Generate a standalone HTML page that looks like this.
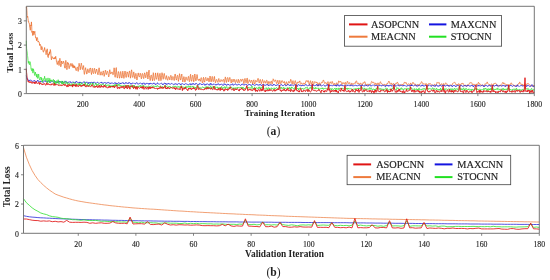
<!DOCTYPE html>
<html><head><meta charset="utf-8"><title>Loss curves</title>
<style>
html,body{margin:0;padding:0;background:#fff}
svg text{font-family:"Liberation Serif","DejaVu Serif",serif;fill:#222}
.tk{font-size:7.8px;stroke:#222;stroke-width:0.12px}
.lb{font-size:9.15px;font-weight:bold}
.cap{font-size:11.6px}
.lg{font-size:10.3px;stroke:#222;stroke-width:0.15px}
</style></head><body>
<svg width="550" height="280" viewBox="0 0 550 280" style="display:block">
<rect width="550" height="280" fill="#fff"/>
<polyline fill="none" stroke="#ea6420" stroke-width="0.7" stroke-linejoin="round" points="26.3,7.5 26.6,6.8 26.9,10.8 27.1,15.5 27.4,17.3 27.7,16.4 28.0,18.6 28.3,21.4 28.6,21.1 28.8,22.8 29.1,22.9 29.4,24.1 29.7,27.2 30.0,28.0 30.3,30.3 30.5,26.8 30.8,24.9 31.1,25.9 31.4,21.9 31.7,25.2 31.9,32.4 32.2,31.2 32.5,34.1 32.8,35.6 33.1,32.3 33.4,31.0 33.6,33.4 33.9,34.8 34.2,32.8 34.5,33.0 34.8,31.2 35.0,33.5 35.3,35.2 35.6,37.9 35.9,37.7 36.2,37.4 36.5,40.7 36.7,38.7 37.0,38.7 37.3,37.5 37.6,38.7 37.9,41.5 38.2,42.2 38.4,41.1 38.7,41.7 39.0,42.2 39.3,42.4 39.6,45.5 39.8,44.6 40.1,44.1 40.4,45.0 40.7,45.0 41.0,49.1 41.3,49.9 41.5,46.7 41.8,46.7 42.1,46.6 42.4,47.6 42.7,49.0 43.0,51.1 43.2,51.9 43.5,52.2 43.8,51.0 44.1,49.8 44.4,49.7 44.6,47.5 44.9,49.2 45.2,51.0 45.5,51.2 45.8,51.9 46.1,54.7 46.3,53.5 46.6,50.6 46.9,51.2 47.2,48.8 47.5,52.6 47.7,56.6 48.0,57.2 48.3,57.6 48.6,53.8 48.9,55.2 49.2,54.3 49.4,51.8 49.7,53.7 50.0,52.6 50.3,49.5 50.6,50.8 50.9,53.3 51.1,57.5 51.4,59.8 51.7,58.6 52.0,56.5 52.3,56.8 52.5,57.7 52.8,58.0 53.1,58.7 53.4,58.7 53.7,57.9 54.0,57.9 54.2,59.1 54.5,58.6 54.8,57.3 55.1,58.9 55.4,58.5 55.7,56.3 55.9,57.8 56.2,58.8 56.5,62.1 56.8,62.7 57.1,63.9 57.3,64.6 57.6,62.7 57.9,62.8 58.2,60.7 58.5,62.7 58.8,64.4 59.0,65.5 59.3,64.1 59.6,59.1 59.9,58.3 60.2,59.5 60.4,63.6 60.7,66.8 61.0,66.4 61.3,65.3 61.6,61.0 61.9,62.1 62.1,62.9 62.4,63.1 62.7,63.7 63.0,62.9 63.3,61.4 63.6,61.1 63.8,62.6 64.1,62.6 64.4,66.0 64.7,67.7 65.0,67.5 65.2,68.2 65.5,65.4 65.8,60.4 66.1,63.0 66.4,65.4 66.7,67.2 66.9,69.7 67.2,67.8 67.5,62.5 67.8,62.2 68.1,63.5 68.4,63.1 68.6,65.3 68.9,67.8 69.2,68.7 69.5,67.1 69.8,65.4 70.0,64.6 70.3,63.6 70.6,63.7 70.9,66.3 71.2,66.3 71.5,65.8 71.7,64.2 72.0,63.4 72.3,64.2 72.6,66.3 72.9,67.6 73.1,64.7 73.4,67.4 73.7,66.6 74.0,67.0 74.3,68.1 74.6,65.8 74.8,66.9 75.1,66.8 75.4,67.8 75.7,69.7 76.0,70.4 76.3,70.7 76.5,69.2 76.8,68.1 77.1,67.4 77.4,67.0 77.7,67.1 77.9,70.1 78.2,71.4 78.5,67.6 78.8,65.4 79.1,63.3 79.4,64.6 79.6,66.4 79.9,66.6 80.2,69.8 80.5,68.4 80.8,66.1 81.1,64.4 81.3,63.2 81.6,64.6 81.9,65.8 82.2,69.1 82.5,69.5 82.7,68.3 83.0,67.4 83.3,66.5 83.6,65.6 83.9,70.3 84.2,73.6 84.4,74.4 84.7,73.1 85.0,70.8 85.3,68.7 85.6,67.7 85.8,69.3 86.1,70.4 86.4,72.0 86.7,74.0 87.0,73.9 87.3,72.3 87.5,69.4 87.8,68.8 88.1,69.5 88.4,71.2 88.7,72.2 89.0,72.9 89.2,72.5 89.5,69.9 89.8,68.7 90.1,68.0 90.4,68.0 90.6,69.6 90.9,71.8 91.2,72.8 91.5,74.5 91.8,72.6 92.1,69.1 92.3,68.3 92.6,69.4 92.9,72.2 93.2,72.9 93.5,73.6 93.8,72.6 94.0,70.5 94.3,68.2 94.6,68.5 94.9,70.1 95.2,72.0 95.4,73.6 95.7,72.3 96.0,71.7 96.3,70.0 96.6,69.0 96.9,70.0 97.1,71.3 97.4,72.9 97.7,74.0 98.0,74.8 98.3,73.1 98.5,70.2 98.8,69.0 99.1,67.8 99.4,69.2 99.7,72.6 100.0,74.2 100.2,75.2 100.5,73.6 100.8,72.0 101.1,71.7 101.4,72.3 101.7,73.7 101.9,75.1 102.2,75.2 102.5,74.2 102.8,72.7 103.1,71.3 103.3,70.9 103.6,72.3 103.9,74.8 104.2,76.4 104.5,75.2 104.8,73.2 105.0,72.3 105.3,70.4 105.6,70.1 105.9,72.5 106.2,74.7 106.5,74.4 106.7,73.3 107.0,72.6 107.3,71.3 107.6,71.3 107.9,72.5 108.1,73.8 108.4,75.5 108.7,76.9 109.0,76.1 109.3,73.1 109.6,69.9 109.8,69.7 110.1,71.2 110.4,73.0 110.7,73.9 111.0,73.9 111.2,73.6 111.5,72.2 111.8,72.1 112.1,72.0 112.4,72.2 112.7,73.8 112.9,74.8 113.2,74.6 113.5,72.7 113.8,70.1 114.1,67.8 114.4,69.2 114.6,72.9 114.9,76.5 115.2,77.3 115.5,74.7 115.8,71.1 116.0,68.4 116.3,67.6 116.6,72.9 116.9,75.6 117.2,77.8 117.5,77.9 117.7,76.4 118.0,73.8 118.3,71.5 118.6,71.7 118.9,73.5 119.2,76.4 119.4,78.2 119.7,78.1 120.0,76.0 120.3,72.8 120.6,71.6 120.8,71.5 121.1,73.9 121.4,77.0 121.7,77.9 122.0,78.1 122.3,76.1 122.5,72.7 122.8,71.2 123.1,72.5 123.4,74.7 123.7,77.2 123.9,78.4 124.2,77.1 124.5,73.9 124.8,71.4 125.1,71.0 125.4,72.2 125.6,74.7 125.9,77.0 126.2,77.5 126.5,75.7 126.8,73.2 127.1,71.8 127.3,72.0 127.6,73.2 127.9,74.2 128.2,76.4 128.5,77.2 128.7,74.7 129.0,72.9 129.3,71.2 129.6,71.0 129.9,73.1 130.2,75.8 130.4,78.2 130.7,77.2 131.0,74.0 131.3,71.1 131.6,69.8 131.9,71.4 132.1,74.8 132.4,77.2 132.7,77.5 133.0,77.2 133.3,75.1 133.5,72.6 133.8,71.9 134.1,73.4 134.4,75.9 134.7,78.3 135.0,78.7 135.2,76.9 135.5,74.8 135.8,73.3 136.1,73.7 136.4,76.3 136.6,78.6 136.9,80.0 137.2,79.4 137.5,76.4 137.8,74.6 138.1,73.2 138.3,72.9 138.6,75.2 138.9,76.7 139.2,76.6 139.5,76.9 139.8,75.7 140.0,73.5 140.3,73.1 140.6,73.6 140.9,75.8 141.2,78.2 141.4,78.8 141.7,77.7 142.0,75.1 142.3,73.5 142.6,73.6 142.9,74.3 143.1,76.2 143.4,78.0 143.7,78.6 144.0,77.4 144.3,74.6 144.6,72.8 144.8,73.1 145.1,74.5 145.4,76.3 145.7,77.8 146.0,77.2 146.2,75.2 146.5,73.3 146.8,71.9 147.1,72.1 147.4,74.8 147.7,77.7 147.9,79.0 148.2,77.3 148.5,73.8 148.8,70.9 149.1,70.1 149.3,75.3 149.6,77.4 149.9,79.2 150.2,80.6 150.5,78.8 150.8,75.9 151.0,75.2 151.3,75.1 151.6,76.5 151.9,78.1 152.2,79.5 152.5,80.8 152.7,78.6 153.0,75.0 153.3,72.7 153.6,73.6 153.9,77.7 154.1,79.9 154.4,80.5 154.7,79.7 155.0,78.1 155.3,75.4 155.6,72.9 155.8,74.7 156.1,77.3 156.4,79.1 156.7,79.4 157.0,77.7 157.3,76.1 157.5,73.6 157.8,72.8 158.1,74.9 158.4,77.5 158.7,79.6 158.9,80.8 159.2,78.0 159.5,74.6 159.8,73.5 160.1,73.3 160.4,75.8 160.6,79.3 160.9,80.7 161.2,80.0 161.5,77.3 161.8,73.9 162.0,72.7 162.3,73.7 162.6,75.6 162.9,78.3 163.2,79.3 163.5,78.3 163.7,76.1 164.0,73.8 164.3,73.4 164.6,74.9 164.9,76.9 165.2,78.7 165.4,79.1 165.7,79.4 166.0,78.2 166.3,76.4 166.6,75.6 166.8,77.3 167.1,78.8 167.4,79.8 167.7,80.3 168.0,79.0 168.3,77.6 168.5,76.7 168.8,76.5 169.1,77.1 169.4,78.2 169.7,79.9 170.0,79.5 170.2,77.8 170.5,76.4 170.8,75.3 171.1,75.9 171.4,76.9 171.6,78.4 171.9,80.2 172.2,79.1 172.5,77.4 172.8,76.5 173.1,76.6 173.3,76.9 173.6,77.6 173.9,79.9 174.2,80.5 174.5,78.7 174.7,75.9 175.0,74.0 175.3,74.2 175.6,76.7 175.9,78.5 176.2,79.7 176.4,80.1 176.7,78.5 177.0,76.3 177.3,75.4 177.6,75.3 177.9,76.8 178.1,79.8 178.4,81.4 178.7,79.7 179.0,77.5 179.3,75.4 179.5,73.7 179.8,74.6 180.1,77.5 180.4,79.9 180.7,80.0 181.0,78.5 181.2,76.7 181.5,75.4 181.8,74.1 182.1,77.4 182.4,79.4 182.7,81.7 182.9,82.0 183.2,80.4 183.5,77.8 183.8,76.6 184.1,76.8 184.3,78.2 184.6,80.9 184.9,82.1 185.2,81.4 185.5,79.8 185.8,77.6 186.0,76.9 186.3,77.6 186.6,78.6 186.9,80.0 187.2,80.4 187.4,80.3 187.7,79.8 188.0,77.9 188.3,76.5 188.6,76.4 188.9,78.1 189.1,81.0 189.4,81.7 189.7,80.6 190.0,78.8 190.3,75.4 190.6,74.3 190.8,76.6 191.1,79.3 191.4,81.1 191.7,81.3 192.0,79.5 192.2,76.9 192.5,75.7 192.8,75.1 193.1,76.5 193.4,79.7 193.7,81.8 193.9,81.4 194.2,79.2 194.5,75.8 194.8,74.0 195.1,75.2 195.4,77.8 195.6,80.0 195.9,80.9 196.2,80.0 196.5,78.2 196.8,76.2 197.0,74.5 197.3,76.0 197.6,78.7 197.9,79.8 198.2,79.6 198.5,80.5 198.7,80.1 199.0,79.2 199.3,79.0 199.6,80.1 199.9,80.7 200.1,81.3 200.4,81.2 200.7,79.2 201.0,77.9 201.3,77.6 201.6,78.2 201.8,79.9 202.1,81.8 202.4,83.0 202.7,82.7 203.0,80.7 203.3,78.1 203.5,77.3 203.8,78.5 204.1,80.6 204.4,82.0 204.7,82.1 204.9,81.0 205.2,78.7 205.5,77.6 205.8,77.3 206.1,78.6 206.4,79.8 206.6,80.2 206.9,81.0 207.2,80.6 207.5,79.0 207.8,77.9 208.1,78.0 208.3,78.3 208.6,80.0 208.9,81.9 209.2,81.6 209.5,79.9 209.7,77.6 210.0,76.0 210.3,77.0 210.6,78.9 210.9,81.3 211.2,81.9 211.4,81.0 211.7,78.8 212.0,76.8 212.3,76.4 212.6,77.3 212.8,80.0 213.1,81.6 213.4,81.5 213.7,80.8 214.0,78.5 214.3,76.5 214.5,76.5 214.8,79.9 215.1,81.1 215.4,82.8 215.7,82.4 216.0,80.6 216.2,79.8 216.5,79.3 216.8,79.7 217.1,80.8 217.4,81.5 217.6,82.1 217.9,82.4 218.2,81.3 218.5,79.2 218.8,78.5 219.1,79.6 219.3,80.3 219.6,81.2 219.9,82.1 220.2,81.9 220.5,81.2 220.8,80.2 221.0,79.5 221.3,79.8 221.6,80.6 221.9,81.3 222.2,81.5 222.4,81.0 222.7,80.3 223.0,80.0 223.3,79.3 223.6,79.6 223.9,81.2 224.1,82.3 224.4,82.6 224.7,81.3 225.0,78.6 225.3,76.9 225.5,77.4 225.8,79.0 226.1,80.9 226.4,82.5 226.7,82.0 227.0,79.7 227.2,78.3 227.5,77.6 227.8,77.5 228.1,79.1 228.4,81.4 228.7,81.9 228.9,80.9 229.2,79.7 229.5,78.1 229.8,77.4 230.1,78.3 230.3,80.2 230.6,81.3 230.9,81.6 231.2,83.0 231.5,81.2 231.8,79.6 232.0,79.2 232.3,80.4 232.6,81.7 232.9,82.2 233.2,81.9 233.5,81.2 233.7,80.0 234.0,79.0 234.3,80.0 234.6,81.4 234.9,82.0 235.1,82.5 235.4,82.7 235.7,81.4 236.0,80.1 236.3,79.6 236.6,80.4 236.8,81.6 237.1,82.1 237.4,82.7 237.7,82.6 238.0,80.9 238.2,79.2 238.5,79.6 238.8,81.4 239.1,82.6 239.4,82.9 239.7,82.4 239.9,81.0 240.2,79.9 240.5,79.4 240.8,79.2 241.1,79.8 241.4,80.8 241.6,81.4 241.9,80.5 242.2,79.3 242.5,79.3 242.8,79.1 243.0,79.4 243.3,81.0 243.6,82.9 243.9,83.7 244.2,82.7 244.5,80.6 244.7,78.9 245.0,78.4 245.3,79.5 245.6,81.2 245.9,82.7 246.2,82.8 246.4,81.8 246.7,79.9 247.0,78.1 247.3,78.2 247.6,82.2 247.8,83.6 248.1,83.4 248.4,82.5 248.7,81.6 249.0,80.4 249.3,79.7 249.5,80.0 249.8,81.0 250.1,81.9 250.4,82.4 250.7,82.7 250.9,81.9 251.2,80.6 251.5,80.0 251.8,80.8 252.1,81.7 252.4,82.9 252.6,84.0 252.9,83.1 253.2,81.1 253.5,80.1 253.8,79.8 254.1,80.9 254.3,82.7 254.6,84.1 254.9,83.7 255.2,82.8 255.5,81.7 255.7,80.4 256.0,80.4 256.3,80.8 256.6,81.6 256.9,82.1 257.2,81.5 257.4,80.4 257.7,79.0 258.0,78.3 258.3,78.6 258.6,79.8 258.9,81.9 259.1,83.0 259.4,82.7 259.7,81.5 260.0,79.9 260.3,79.4 260.5,80.3 260.8,81.4 261.1,83.0 261.4,83.7 261.7,82.1 262.0,81.4 262.2,80.8 262.5,79.5 262.8,80.5 263.1,81.4 263.4,82.8 263.6,83.3 263.9,82.9 264.2,81.6 264.5,80.9 264.8,80.7 265.1,81.4 265.3,82.3 265.6,83.1 265.9,83.2 266.2,81.6 266.5,80.5 266.8,80.2 267.0,80.3 267.3,82.0 267.6,83.5 267.9,84.1 268.2,84.5 268.4,83.1 268.7,81.5 269.0,81.3 269.3,81.7 269.6,82.9 269.9,83.6 270.1,83.7 270.4,83.1 270.7,82.1 271.0,81.2 271.3,81.1 271.6,82.0 271.8,83.3 272.1,84.2 272.4,83.5 272.7,81.7 273.0,79.6 273.2,78.8 273.5,79.2 273.8,80.1 274.1,81.2 274.4,81.4 274.7,80.9 274.9,80.9 275.2,80.8 275.5,79.9 275.8,80.1 276.1,81.8 276.3,82.9 276.6,83.6 276.9,83.5 277.2,82.1 277.5,81.1 277.8,80.2 278.0,80.7 278.3,82.7 278.6,84.0 278.9,84.0 279.2,82.8 279.5,81.3 279.7,80.5 280.0,80.5 280.3,83.5 280.6,83.9 280.9,83.6 281.1,83.2 281.4,81.9 281.7,80.8 282.0,80.6 282.3,80.6 282.6,81.4 282.8,82.1 283.1,82.4 283.4,83.0 283.7,82.6 284.0,81.5 284.3,81.4 284.5,81.9 284.8,83.5 285.1,84.9 285.4,84.6 285.7,83.7 285.9,83.3 286.2,82.2 286.5,81.7 286.8,82.9 287.1,84.4 287.4,85.0 287.6,84.3 287.9,83.4 288.2,82.8 288.5,82.1 288.8,81.4 289.0,82.1 289.3,82.8 289.6,82.9 289.9,82.9 290.2,81.8 290.5,80.1 290.7,79.3 291.0,79.9 291.3,81.3 291.6,82.0 291.9,83.2 292.2,84.1 292.4,82.9 292.7,81.2 293.0,80.6 293.3,81.6 293.6,82.7 293.8,83.8 294.1,84.6 294.4,83.9 294.7,82.4 295.0,81.0 295.3,80.6 295.5,81.5 295.8,82.7 296.1,83.7 296.4,83.8 296.7,84.8 297.0,83.9 297.2,82.3 297.5,81.9 297.8,82.5 298.1,82.7 298.4,83.0 298.6,82.8 298.9,81.7 299.2,81.7 299.5,81.7 299.8,80.9 300.1,82.1 300.3,83.7 300.6,84.3 300.9,83.8 301.2,83.6 301.5,83.4 301.7,82.9 302.0,83.1 302.3,83.7 302.6,84.3 302.9,84.6 303.2,84.3 303.4,83.6 303.7,83.1 304.0,82.8 304.3,83.2 304.6,84.2 304.9,84.3 305.1,83.5 305.4,83.2 305.7,81.7 306.0,80.7 306.3,80.6 306.5,80.8 306.8,81.5 307.1,81.9 307.4,82.1 307.7,81.6 308.0,80.4 308.2,80.8 308.5,82.0 308.8,82.8 309.1,84.5 309.4,85.4 309.7,84.1 309.9,82.5 310.2,81.3 310.5,80.7 310.8,81.9 311.1,83.2 311.3,84.1 311.6,84.0 311.9,83.3 312.2,82.4 312.5,81.6 312.8,81.2 313.0,83.7 313.3,84.5 313.6,84.7 313.9,83.9 314.2,83.0 314.4,82.1 314.7,81.6 315.0,81.6 315.3,81.8 315.6,82.2 315.9,82.9 316.1,82.8 316.4,82.6 316.7,82.1 317.0,82.0 317.3,83.1 317.6,84.2 317.8,85.9 318.1,86.1 318.4,84.9 318.7,83.4 319.0,82.8 319.2,82.6 319.5,82.9 319.8,84.2 320.1,85.4 320.4,85.5 320.7,84.4 320.9,83.4 321.2,82.6 321.5,82.4 321.8,82.4 322.1,82.5 322.4,82.9 322.6,82.5 322.9,81.2 323.2,80.1 323.5,80.1 323.8,80.8 324.0,81.4 324.3,82.2 324.6,83.3 324.9,83.7 325.2,83.3 325.5,82.6 325.7,82.3 326.0,82.9 326.3,83.1 326.6,83.7 326.9,84.6 327.1,84.4 327.4,83.5 327.7,82.2 328.0,81.6 328.3,82.4 328.6,83.7 328.8,84.5 329.1,84.9 329.4,85.2 329.7,83.4 330.0,82.0 330.3,81.8 330.5,82.7 330.8,82.9 331.1,83.2 331.4,83.5 331.7,82.9 331.9,81.9 332.2,81.4 332.5,82.0 332.8,83.0 333.1,83.9 333.4,84.9 333.6,85.0 333.9,84.4 334.2,83.5 334.5,83.0 334.8,83.5 335.1,84.3 335.3,85.0 335.6,85.5 335.9,85.2 336.2,84.0 336.5,83.0 336.7,82.7 337.0,83.3 337.3,84.3 337.6,84.6 337.9,84.1 338.2,83.3 338.4,82.1 338.7,80.9 339.0,81.0 339.3,81.4 339.6,81.7 339.8,82.3 340.1,82.0 340.4,81.5 340.7,81.6 341.0,81.5 341.3,82.4 341.5,83.5 341.8,84.5 342.1,84.5 342.4,84.0 342.7,83.1 343.0,82.4 343.2,82.7 343.5,83.2 343.8,83.9 344.1,84.2 344.4,84.0 344.6,83.4 344.9,82.6 345.2,82.3 345.5,82.4 345.8,84.7 346.1,84.5 346.3,84.1 346.6,84.0 346.9,83.2 347.2,81.6 347.5,81.2 347.8,81.8 348.0,82.5 348.3,83.5 348.6,83.6 348.9,83.3 349.2,83.4 349.4,82.8 349.7,82.5 350.0,83.6 350.3,84.6 350.6,85.0 350.9,85.4 351.1,84.9 351.4,84.1 351.7,83.2 352.0,82.9 352.3,83.7 352.5,84.3 352.8,84.6 353.1,84.7 353.4,84.4 353.7,83.5 354.0,83.0 354.2,82.9 354.5,83.1 354.8,83.4 355.1,83.6 355.4,83.1 355.7,81.9 355.9,81.4 356.2,81.0 356.5,80.8 356.8,81.7 357.1,83.2 357.3,83.7 357.6,83.8 357.9,84.0 358.2,83.6 358.5,83.0 358.8,82.9 359.0,83.5 359.3,84.4 359.6,85.0 359.9,84.7 360.2,83.8 360.5,82.9 360.7,83.0 361.0,83.5 361.3,83.8 361.6,84.5 361.9,84.5 362.1,85.5 362.4,84.8 362.7,83.8 363.0,82.8 363.3,82.5 363.6,83.2 363.8,83.4 364.1,83.1 364.4,82.4 364.7,81.6 365.0,82.0 365.2,82.5 365.5,83.6 365.8,85.0 366.1,85.8 366.4,85.5 366.7,84.6 366.9,84.2 367.2,84.2 367.5,84.1 367.8,84.6 368.1,85.4 368.4,85.1 368.6,84.3 368.9,83.9 369.2,84.2 369.5,84.4 369.8,84.2 370.0,84.6 370.3,84.7 370.6,84.4 370.9,83.7 371.2,82.6 371.5,81.8 371.7,81.4 372.0,81.6 372.3,82.1 372.6,82.8 372.9,82.9 373.2,82.6 373.4,82.5 373.7,82.3 374.0,82.4 374.3,83.5 374.6,84.7 374.8,84.9 375.1,84.6 375.4,83.7 375.7,83.0 376.0,83.0 376.3,83.5 376.5,84.7 376.8,85.4 377.1,85.3 377.4,84.5 377.7,83.3 377.9,82.8 378.2,83.0 378.5,84.8 378.8,85.0 379.1,85.4 379.4,84.7 379.6,83.7 379.9,82.8 380.2,82.1 380.5,81.7 380.8,82.7 381.1,83.6 381.3,83.6 381.6,83.7 381.9,83.8 382.2,84.0 382.5,84.1 382.7,84.5 383.0,85.1 383.3,85.4 383.6,85.5 383.9,85.2 384.2,84.5 384.4,84.0 384.7,84.0 385.0,84.4 385.3,85.2 385.6,85.7 385.9,85.7 386.1,85.1 386.4,84.4 386.7,84.3 387.0,83.6 387.3,83.2 387.5,83.7 387.8,83.4 388.1,82.6 388.4,82.3 388.7,81.3 389.0,81.0 389.2,81.6 389.5,82.0 389.8,83.0 390.1,84.2 390.4,83.9 390.6,84.0 390.9,83.9 391.2,83.4 391.5,83.1 391.8,84.0 392.1,85.0 392.3,84.7 392.6,84.3 392.9,84.1 393.2,83.6 393.5,83.2 393.8,83.6 394.0,84.0 394.3,84.4 394.6,84.6 394.9,85.5 395.2,84.7 395.4,83.9 395.7,83.3 396.0,83.4 396.3,83.6 396.6,83.8 396.9,83.2 397.1,82.1 397.4,82.2 397.7,82.6 398.0,83.1 398.3,83.7 398.6,84.5 398.8,85.4 399.1,85.5 399.4,85.0 399.7,84.7 400.0,84.4 400.2,84.7 400.5,85.2 400.8,85.4 401.1,85.3 401.4,85.0 401.7,84.4 401.9,84.2 402.2,84.3 402.5,84.5 402.8,85.1 403.1,85.2 403.3,84.4 403.6,84.0 403.9,83.3 404.2,82.6 404.5,82.2 404.8,82.4 405.0,83.1 405.3,83.2 405.6,82.6 405.9,82.4 406.2,82.8 406.5,82.9 406.7,83.9 407.0,84.7 407.3,84.8 407.6,84.9 407.9,84.5 408.1,84.1 408.4,83.8 408.7,83.7 409.0,83.9 409.3,84.0 409.6,84.5 409.8,84.8 410.1,84.6 410.4,84.1 410.7,83.1 411.0,83.2 411.3,85.8 411.5,85.6 411.8,85.2 412.1,84.2 412.4,83.8 412.7,83.3 412.9,82.2 413.2,82.6 413.5,83.3 413.8,83.6 414.1,83.5 414.4,83.9 414.6,84.5 414.9,84.1 415.2,83.9 415.5,84.6 415.8,85.8 416.0,85.7 416.3,85.3 416.6,85.1 416.9,84.8 417.2,84.8 417.5,84.7 417.7,84.6 418.0,84.6 418.3,85.7 418.6,86.2 418.9,85.0 419.2,84.2 419.4,84.5 419.7,83.9 420.0,83.7 420.3,83.8 420.6,83.8 420.8,83.4 421.1,82.6 421.4,81.8 421.7,81.6 422.0,82.1 422.3,82.7 422.5,83.3 422.8,83.8 423.1,84.3 423.4,84.1 423.7,83.7 424.0,83.4 424.2,83.7 424.5,84.1 424.8,84.4 425.1,84.8 425.4,84.8 425.6,84.0 425.9,83.4 426.2,83.5 426.5,84.3 426.8,85.3 427.1,85.3 427.3,84.7 427.6,85.5 427.9,84.9 428.2,84.1 428.5,83.6 428.7,83.7 429.0,83.5 429.3,83.6 429.6,83.6 429.9,83.6 430.2,83.6 430.4,83.7 430.7,83.8 431.0,84.0 431.3,84.6 431.6,85.1 431.9,85.5 432.1,85.3 432.4,85.0 432.7,84.9 433.0,84.9 433.3,85.4 433.5,85.6 433.8,85.4 434.1,85.3 434.4,84.8 434.7,84.2 435.0,84.4 435.2,85.1 435.5,85.7 435.8,85.8 436.1,84.9 436.4,84.5 436.7,83.6 436.9,82.4 437.2,82.4 437.5,82.7 437.8,83.0 438.1,82.9 438.3,83.0 438.6,83.1 438.9,82.4 439.2,82.6 439.5,83.5 439.8,84.4 440.0,85.2 440.3,85.3 440.6,84.7 440.9,84.6 441.2,84.3 441.4,83.7 441.7,83.8 442.0,84.8 442.3,85.5 442.6,85.5 442.9,84.7 443.1,83.7 443.4,83.5 443.7,83.9 444.0,86.1 444.3,85.6 444.6,84.9 444.8,84.6 445.1,84.0 445.4,83.1 445.7,82.8 446.0,83.1 446.2,83.8 446.5,84.1 446.8,84.0 447.1,84.1 447.4,84.3 447.7,84.5 447.9,84.7 448.2,85.0 448.5,85.4 448.8,85.9 449.1,86.0 449.4,85.6 449.6,85.3 449.9,85.4 450.2,85.2 450.5,84.8 450.8,85.1 451.0,85.3 451.3,85.3 451.6,85.4 451.9,85.1 452.2,84.9 452.5,83.9 452.7,83.5 453.0,83.6 453.3,83.2 453.6,82.9 453.9,82.6 454.1,82.3 454.4,82.0 454.7,82.1 455.0,82.6 455.3,83.3 455.6,84.1 455.8,84.5 456.1,84.7 456.4,84.3 456.7,84.4 457.0,84.8 457.3,84.4 457.5,84.8 457.8,85.6 458.1,85.1 458.4,84.0 458.7,83.6 458.9,83.7 459.2,84.1 459.5,84.8 459.8,84.5 460.1,84.3 460.4,86.0 460.6,85.2 460.9,84.3 461.2,83.7 461.5,83.6 461.8,83.7 462.1,84.1 462.3,83.8 462.6,83.2 462.9,83.1 463.2,83.4 463.5,84.0 463.7,84.6 464.0,85.3 464.3,86.1 464.6,86.0 464.9,85.3 465.2,85.2 465.4,85.3 465.7,85.4 466.0,85.5 466.3,86.1 466.6,86.4 466.8,85.9 467.1,85.5 467.4,84.7 467.7,84.8 468.0,85.2 468.3,85.5 468.5,85.3 468.8,84.3 469.1,83.7 469.4,83.4 469.7,83.3 470.0,82.6 470.2,82.5 470.5,83.0 470.8,83.1 471.1,83.2 471.4,83.0 471.6,82.7 471.9,83.0 472.2,83.8 472.5,84.7 472.8,85.2 473.1,85.1 473.3,84.5 473.6,84.2 473.9,84.1 474.2,84.1 474.5,84.9 474.8,85.2 475.0,85.1 475.3,85.2 475.6,84.8 475.9,84.6 476.2,84.2 476.4,83.9 476.7,85.4 477.0,85.5 477.3,85.7 477.6,84.7 477.9,83.9 478.1,83.0 478.4,82.4 478.7,83.1 479.0,83.3 479.3,83.3 479.5,84.2 479.8,84.3 480.1,84.0 480.4,84.1 480.7,84.6 481.0,85.7 481.2,85.8 481.5,85.5 481.8,85.2 482.1,84.8 482.4,84.8 482.7,85.1 482.9,85.3 483.2,85.4 483.5,85.7 483.8,85.9 484.1,86.2 484.3,85.9 484.6,85.0 484.9,84.3 485.2,83.7 485.5,84.1 485.8,83.9 486.0,83.8 486.3,83.7 486.6,83.3 486.9,82.5 487.2,81.9 487.5,82.6 487.7,83.3 488.0,83.4 488.3,83.8 488.6,84.2 488.9,84.7 489.1,84.9 489.4,84.6 489.7,84.4 490.0,85.0 490.3,85.7 490.6,85.3 490.8,84.9 491.1,84.5 491.4,83.9 491.7,83.9 492.0,84.0 492.2,84.5 492.5,85.0 492.8,85.2 493.1,86.4 493.4,85.1 493.7,84.0 493.9,83.5 494.2,83.2 494.5,83.4 494.8,83.8 495.1,83.4 495.4,83.2 495.6,83.2 495.9,83.6 496.2,83.8 496.5,84.5 496.8,85.4 497.0,86.1 497.3,86.0 497.6,85.4 497.9,85.1 498.2,85.2 498.5,85.7 498.7,85.6 499.0,85.9 499.3,86.1 499.6,85.7 499.9,85.7 500.2,85.3 500.4,84.8 500.7,85.4 501.0,85.7 501.3,85.7 501.6,85.4 501.8,84.5 502.1,83.7 502.4,82.7 502.7,82.6 503.0,83.0 503.3,82.7 503.5,83.5 503.8,84.0 504.1,83.3 504.4,82.9 504.7,83.2 504.9,83.6 505.2,84.7 505.5,85.8 505.8,86.4 506.1,85.8 506.4,84.9 506.6,84.5 506.9,84.2 507.2,84.9 507.5,85.0 507.8,84.7 508.1,84.8 508.3,84.9 508.6,84.9 508.9,84.5 509.2,84.5 509.5,86.3 509.7,85.8 510.0,85.2 510.3,84.7 510.6,84.1 510.9,83.3 511.2,82.8 511.4,83.7 511.7,84.2 512.0,84.0 512.3,84.1 512.6,84.2 512.9,84.5 513.1,84.8 513.4,85.0 513.7,85.4 514.0,86.0 514.3,86.3 514.5,86.1 514.8,85.8 515.1,85.9 515.4,85.4 515.7,85.2 516.0,85.5 516.2,85.5 516.5,85.5 516.8,85.3 517.1,85.4 517.4,85.4 517.6,85.4 517.9,84.5 518.2,83.9 518.5,83.8 518.8,83.7 519.1,84.0 519.3,83.0 519.6,82.1 519.9,82.3 520.2,82.6 520.5,83.1 520.8,83.7 521.0,84.6 521.3,84.7 521.6,84.6 521.9,84.8 522.2,84.3 522.4,84.2 522.7,85.1 523.0,86.0 523.3,85.9 523.6,85.0 523.9,84.6 524.1,84.6 524.4,84.7 524.7,85.1 525.0,85.4 525.3,85.3 525.6,85.0 525.8,86.1 526.1,85.4 526.4,84.4 526.7,84.2 527.0,84.3 527.2,83.7 527.5,83.5 527.8,83.5 528.1,83.4 528.4,83.5 528.7,83.8 528.9,84.3 529.2,84.4 529.5,84.7 529.8,85.3 530.1,85.6 530.3,85.5 530.6,85.4 530.9,85.4 531.2,85.4 531.5,85.9 531.8,86.1 532.0,86.1 532.3,86.3 532.6,85.9 532.9,85.5 533.2,85.7 533.5,85.5 533.7,85.7 534.0,86.1 534.3,85.1"/>
<polyline fill="none" stroke="#2a2ad8" stroke-width="0.8" stroke-linejoin="round" points="26.3,75.4 26.6,77.2 26.9,78.0 27.1,79.1 27.4,78.8 27.7,78.8 28.0,79.6 28.3,80.0 28.6,80.7 28.8,80.2 29.1,80.9 29.4,80.4 29.7,80.5 30.0,80.6 30.3,79.9 30.5,80.1 30.8,80.1 31.1,80.1 31.4,80.5 31.7,80.9 31.9,80.9 32.2,81.4 32.5,81.3 32.8,81.5 33.1,81.6 33.4,81.1 33.6,80.9 33.9,80.6 34.2,80.2 34.5,81.1 34.8,80.8 35.0,81.7 35.3,81.6 35.6,81.7 35.9,82.3 36.2,82.2 36.5,81.5 36.7,81.3 37.0,81.2 37.3,81.2 37.6,80.2 37.9,80.9 38.2,81.2 38.4,80.7 38.7,81.3 39.0,81.8 39.3,81.5 39.6,81.9 39.8,81.7 40.1,81.6 40.4,81.8 40.7,81.0 41.0,81.0 41.3,81.3 41.5,81.3 41.8,81.0 42.1,81.6 42.4,81.7 42.7,81.8 43.0,82.0 43.2,82.5 43.5,81.8 43.8,81.5 44.1,81.3 44.4,80.8 44.6,81.1 44.9,81.0 45.2,80.8 45.5,81.6 45.8,81.3 46.1,81.5 46.3,81.9 46.6,81.7 46.9,81.9 47.2,82.2 47.5,81.4 47.7,81.4 48.0,81.2 48.3,81.3 48.6,81.0 48.9,81.4 49.2,82.0 49.4,81.9 49.7,82.0 50.0,82.5 50.3,82.4 50.6,82.3 50.9,82.2 51.1,81.6 51.4,81.2 51.7,80.9 52.0,81.1 52.3,81.2 52.5,81.4 52.8,81.6 53.1,82.3 53.4,82.2 53.7,82.3 54.0,82.4 54.2,82.3 54.5,82.1 54.8,81.8 55.1,81.9 55.4,81.3 55.7,81.6 55.9,81.7 56.2,81.8 56.5,82.0 56.8,82.6 57.1,82.5 57.3,83.0 57.6,83.0 57.9,82.7 58.2,81.5 58.5,82.2 58.8,81.5 59.0,81.2 59.3,81.8 59.6,81.4 59.9,81.6 60.2,82.1 60.4,81.8 60.7,82.4 61.0,82.7 61.3,82.2 61.6,82.2 61.9,82.3 62.1,82.1 62.4,81.0 62.7,81.9 63.0,81.9 63.3,82.3 63.6,82.3 63.8,82.6 64.1,82.8 64.4,83.0 64.7,82.9 65.0,82.5 65.2,82.0 65.5,81.2 65.8,81.4 66.1,81.2 66.4,81.7 66.7,82.1 66.9,82.7 67.2,82.5 67.5,83.3 67.8,82.8 68.1,82.2 68.4,82.4 68.6,81.9 68.9,82.1 69.2,82.2 69.5,81.9 69.8,81.9 70.0,81.6 70.3,81.6 70.6,82.7 70.9,82.8 71.2,82.8 71.5,82.8 71.7,83.0 72.0,82.4 72.3,82.1 72.6,81.9 72.9,82.2 73.1,81.9 73.4,82.4 73.7,81.9 74.0,82.7 74.3,82.7 74.6,82.9 74.8,83.0 75.1,83.1 75.4,83.1 75.7,81.8 76.0,82.0 76.3,81.9 76.5,81.3 76.8,81.9 77.1,81.9 77.4,82.3 77.7,82.2 77.9,82.6 78.2,82.8 78.5,82.9 78.8,82.6 79.1,82.2 79.4,82.9 79.6,82.1 79.9,82.1 80.2,82.0 80.5,82.6 80.8,82.0 81.1,82.7 81.3,82.8 81.6,83.0 81.9,83.4 82.2,83.0 82.5,83.2 82.7,82.7 83.0,82.3 83.3,82.0 83.6,82.0 83.9,82.1 84.2,81.6 84.4,82.3 84.7,83.0 85.0,83.0 85.3,83.2 85.6,83.0 85.8,83.0 86.1,82.9 86.4,81.9 86.7,82.2 87.0,82.2 87.3,82.2 87.5,82.3 87.8,82.0 88.1,82.5 88.4,82.5 88.7,83.9 89.0,83.0 89.2,82.7 89.5,82.3 89.8,82.6 90.1,82.9 90.4,82.0 90.6,82.3 90.9,82.7 91.2,82.5 91.5,82.3 91.8,82.5 92.1,82.8 92.3,83.5 92.6,82.4 92.9,83.4 93.2,82.8 93.5,83.0 93.8,82.0 94.0,82.1 94.3,82.0 94.6,82.3 94.9,82.6 95.2,82.8 95.4,83.6 95.7,82.9 96.0,83.0 96.3,83.3 96.6,83.0 96.9,82.7 97.1,82.1 97.4,82.3 97.7,82.3 98.0,82.5 98.3,83.0 98.5,82.9 98.8,83.0 99.1,83.3 99.4,83.3 99.7,83.1 100.0,83.0 100.2,82.9 100.5,82.5 100.8,82.5 101.1,82.4 101.4,82.3 101.7,83.0 101.9,82.3 102.2,83.3 102.5,82.9 102.8,83.3 103.1,83.1 103.3,83.3 103.6,83.4 103.9,82.6 104.2,82.6 104.5,82.5 104.8,82.4 105.0,82.2 105.3,82.4 105.6,82.8 105.9,83.6 106.2,83.5 106.5,83.4 106.7,82.9 107.0,83.2 107.3,83.1 107.6,82.5 107.9,82.7 108.1,82.5 108.4,82.5 108.7,83.1 109.0,82.6 109.3,83.0 109.6,83.4 109.8,83.8 110.1,83.5 110.4,83.0 110.7,83.5 111.0,83.4 111.2,82.7 111.5,83.1 111.8,83.2 112.1,82.8 112.4,83.0 112.7,83.1 112.9,83.4 113.2,83.4 113.5,83.6 113.8,83.7 114.1,83.6 114.4,83.1 114.6,82.7 114.9,82.5 115.2,82.5 115.5,83.6 115.8,83.1 116.0,83.1 116.3,83.1 116.6,83.9 116.9,83.2 117.2,83.6 117.5,83.8 117.7,83.4 118.0,83.3 118.3,83.2 118.6,82.6 118.9,82.8 119.2,83.2 119.4,83.1 119.7,83.2 120.0,83.7 120.3,83.2 120.6,84.0 120.8,83.2 121.1,83.3 121.4,83.6 121.7,83.1 122.0,82.6 122.3,82.8 122.5,83.1 122.8,82.8 123.1,82.5 123.4,83.8 123.7,83.4 123.9,83.7 124.2,83.8 124.5,83.8 124.8,83.6 125.1,83.0 125.4,82.9 125.6,83.2 125.9,82.4 126.2,83.2 126.5,82.8 126.8,83.2 127.1,83.1 127.3,83.6 127.6,83.5 127.9,83.8 128.2,83.4 128.5,83.4 128.7,82.6 129.0,83.2 129.3,82.5 129.6,82.7 129.9,82.9 130.2,83.4 130.4,83.3 130.7,84.1 131.0,84.2 131.3,83.7 131.6,84.2 131.9,83.2 132.1,83.5 132.4,83.1 132.7,83.0 133.0,82.8 133.3,83.1 133.5,83.2 133.8,83.4 134.1,83.3 134.4,83.5 134.7,83.5 135.0,83.8 135.2,83.8 135.5,84.1 135.8,83.1 136.1,82.9 136.4,83.1 136.6,82.7 136.9,82.7 137.2,83.3 137.5,83.2 137.8,83.7 138.1,84.4 138.3,84.1 138.6,84.0 138.9,83.6 139.2,83.7 139.5,83.4 139.8,83.4 140.0,83.0 140.3,83.0 140.6,82.9 140.9,83.2 141.2,83.7 141.4,83.8 141.7,84.0 142.0,84.0 142.3,83.4 142.6,84.4 142.9,83.5 143.1,83.1 143.4,82.8 143.7,83.4 144.0,83.1 144.3,83.1 144.6,83.8 144.8,84.4 145.1,84.1 145.4,84.4 145.7,83.8 146.0,84.1 146.2,83.1 146.5,83.3 146.8,83.4 147.1,83.3 147.4,83.5 147.7,83.2 147.9,83.1 148.2,83.9 148.5,83.7 148.8,84.4 149.1,84.0 149.3,83.3 149.6,84.2 149.9,83.2 150.2,83.0 150.5,83.7 150.8,83.6 151.0,83.6 151.3,83.2 151.6,83.8 151.9,84.0 152.2,83.9 152.5,84.1 152.7,84.0 153.0,84.0 153.3,83.3 153.6,83.7 153.9,82.8 154.1,83.3 154.4,83.5 154.7,83.2 155.0,83.5 155.3,84.5 155.6,84.0 155.8,84.6 156.1,84.4 156.4,83.8 156.7,84.1 157.0,83.5 157.3,83.5 157.5,82.7 157.8,83.3 158.1,83.7 158.4,83.9 158.7,84.1 158.9,84.0 159.2,84.2 159.5,84.0 159.8,84.1 160.1,84.0 160.4,83.7 160.6,83.6 160.9,83.3 161.2,83.1 161.5,83.1 161.8,83.7 162.0,84.2 162.3,84.2 162.6,84.1 162.9,85.0 163.2,84.4 163.5,84.0 163.7,84.1 164.0,84.0 164.3,83.0 164.6,82.9 164.9,83.4 165.2,83.1 165.4,83.3 165.7,84.2 166.0,83.3 166.3,84.5 166.6,84.4 166.8,84.6 167.1,84.1 167.4,84.2 167.7,83.6 168.0,83.1 168.3,83.3 168.5,83.5 168.8,83.1 169.1,84.1 169.4,83.8 169.7,84.3 170.0,84.3 170.2,84.3 170.5,84.2 170.8,84.0 171.1,84.0 171.4,83.7 171.6,83.3 171.9,83.4 172.2,83.9 172.5,83.9 172.8,84.2 173.1,84.2 173.3,84.3 173.6,84.4 173.9,84.5 174.2,84.1 174.5,84.3 174.7,84.5 175.0,83.5 175.3,83.9 175.6,83.8 175.9,84.0 176.2,83.7 176.4,84.5 176.7,84.2 177.0,84.6 177.3,84.8 177.6,84.7 177.9,83.9 178.1,83.7 178.4,83.4 178.7,83.0 179.0,83.4 179.3,83.5 179.5,83.8 179.8,84.0 180.1,84.4 180.4,84.7 180.7,83.9 181.0,84.9 181.2,84.2 181.5,83.9 181.8,83.7 182.1,83.9 182.4,83.6 182.7,83.7 182.9,84.0 183.2,84.0 183.5,84.3 183.8,84.6 184.1,84.3 184.3,84.8 184.6,84.2 184.9,84.3 185.2,83.8 185.5,83.7 185.8,83.5 186.0,83.9 186.3,83.9 186.6,84.1 186.9,84.1 187.2,84.1 187.4,84.2 187.7,84.7 188.0,84.5 188.3,84.8 188.6,84.7 188.9,84.1 189.1,83.9 189.4,84.1 189.7,84.2 190.0,83.7 190.3,84.3 190.6,84.8 190.8,83.8 191.1,84.5 191.4,84.7 191.7,84.2 192.0,84.5 192.2,83.5 192.5,84.2 192.8,84.0 193.1,83.7 193.4,84.0 193.7,83.5 193.9,84.7 194.2,84.6 194.5,84.5 194.8,84.5 195.1,84.3 195.4,84.3 195.6,83.5 195.9,84.1 196.2,83.7 196.5,83.4 196.8,83.8 197.0,84.0 197.3,84.2 197.6,84.5 197.9,84.9 198.2,84.8 198.5,85.1 198.7,84.4 199.0,84.8 199.3,83.5 199.6,83.4 199.9,83.4 200.1,83.8 200.4,84.0 200.7,83.7 201.0,84.2 201.3,84.4 201.6,84.9 201.8,84.4 202.1,84.9 202.4,84.5 202.7,84.8 203.0,84.2 203.3,83.7 203.5,83.9 203.8,84.0 204.1,83.8 204.4,84.2 204.7,84.1 204.9,85.4 205.2,84.6 205.5,84.6 205.8,85.1 206.1,84.8 206.4,83.9 206.6,84.3 206.9,84.0 207.2,83.7 207.5,84.0 207.8,84.0 208.1,84.6 208.3,84.5 208.6,84.5 208.9,84.7 209.2,85.4 209.5,84.4 209.7,84.3 210.0,84.4 210.3,83.5 210.6,84.4 210.9,83.4 211.2,84.3 211.4,83.9 211.7,84.6 212.0,85.1 212.3,84.8 212.6,84.7 212.8,84.6 213.1,84.2 213.4,84.5 213.7,83.9 214.0,83.7 214.3,84.0 214.5,84.3 214.8,84.5 215.1,84.3 215.4,84.5 215.7,85.1 216.0,85.3 216.2,84.5 216.5,85.1 216.8,84.4 217.1,84.4 217.4,84.5 217.6,83.9 217.9,84.1 218.2,83.8 218.5,83.7 218.8,84.7 219.1,84.5 219.3,84.6 219.6,85.1 219.9,85.1 220.2,84.1 220.5,84.5 220.8,84.2 221.0,84.1 221.3,84.1 221.6,84.3 221.9,84.1 222.2,84.2 222.4,84.9 222.7,85.3 223.0,85.0 223.3,85.4 223.6,84.9 223.9,84.2 224.1,83.6 224.4,84.0 224.7,84.4 225.0,83.9 225.3,84.9 225.5,84.7 225.8,84.3 226.1,84.7 226.4,85.4 226.7,85.5 227.0,84.6 227.2,84.7 227.5,84.6 227.8,84.1 228.1,84.3 228.4,84.7 228.7,84.0 228.9,84.6 229.2,84.9 229.5,85.3 229.8,85.0 230.1,85.3 230.3,84.8 230.6,84.9 230.9,84.3 231.2,84.5 231.5,84.4 231.8,84.7 232.0,84.5 232.3,84.1 232.6,83.7 232.9,85.2 233.2,85.3 233.5,85.0 233.7,85.0 234.0,85.2 234.3,84.7 234.6,85.0 234.9,84.4 235.1,83.9 235.4,83.7 235.7,84.3 236.0,84.6 236.3,84.6 236.6,84.6 236.8,85.0 237.1,85.4 237.4,85.0 237.7,84.6 238.0,84.9 238.2,84.8 238.5,84.1 238.8,84.1 239.1,84.0 239.4,84.4 239.7,84.8 239.9,85.0 240.2,85.4 240.5,85.5 240.8,85.3 241.1,85.2 241.4,84.5 241.6,85.0 241.9,84.4 242.2,84.4 242.5,83.8 242.8,84.3 243.0,84.7 243.3,84.6 243.6,85.0 243.9,85.3 244.2,84.8 244.5,85.0 244.7,84.5 245.0,84.4 245.3,84.3 245.6,84.3 245.9,84.6 246.2,84.1 246.4,84.5 246.7,84.5 247.0,85.0 247.3,85.4 247.6,85.6 247.8,85.1 248.1,84.8 248.4,85.0 248.7,84.6 249.0,84.1 249.3,84.6 249.5,84.4 249.8,84.8 250.1,84.3 250.4,84.8 250.7,85.2 250.9,85.7 251.2,85.4 251.5,85.0 251.8,85.2 252.1,85.0 252.4,84.4 252.6,84.8 252.9,84.3 253.2,84.2 253.5,84.8 253.8,85.0 254.1,85.0 254.3,85.3 254.6,85.4 254.9,85.3 255.2,85.1 255.5,85.3 255.7,84.9 256.0,84.4 256.3,84.1 256.6,84.0 256.9,84.8 257.2,84.4 257.4,84.7 257.7,85.2 258.0,85.2 258.3,85.1 258.6,84.8 258.9,85.4 259.1,84.7 259.4,84.7 259.7,84.6 260.0,84.1 260.3,84.2 260.5,84.9 260.8,84.9 261.1,85.0 261.4,85.7 261.7,85.2 262.0,85.4 262.2,85.2 262.5,85.0 262.8,84.3 263.1,84.6 263.4,84.6 263.6,84.0 263.9,84.7 264.2,84.9 264.5,85.4 264.8,84.9 265.1,85.3 265.3,85.3 265.6,85.3 265.9,85.2 266.2,85.2 266.5,85.0 266.8,84.4 267.0,84.5 267.3,84.1 267.6,84.9 267.9,85.1 268.2,85.5 268.4,85.0 268.7,85.8 269.0,85.2 269.3,84.9 269.6,85.2 269.9,84.7 270.1,85.3 270.4,84.7 270.7,85.0 271.0,84.6 271.3,84.8 271.6,85.3 271.8,85.0 272.1,85.4 272.4,85.7 272.7,85.6 273.0,85.7 273.2,85.1 273.5,84.2 273.8,84.8 274.1,84.4 274.4,84.8 274.7,84.5 274.9,84.9 275.2,85.3 275.5,86.0 275.8,85.7 276.1,85.2 276.3,85.5 276.6,85.0 276.9,85.1 277.2,85.3 277.5,84.5 277.8,84.5 278.0,84.9 278.3,85.0 278.6,85.1 278.9,85.6 279.2,85.4 279.5,85.6 279.7,86.2 280.0,85.4 280.3,85.3 280.6,85.1 280.9,84.6 281.1,84.8 281.4,84.5 281.7,84.5 282.0,85.0 282.3,85.8 282.6,85.7 282.8,85.3 283.1,85.7 283.4,85.7 283.7,85.3 284.0,84.9 284.3,84.7 284.5,84.5 284.8,84.9 285.1,84.9 285.4,85.1 285.7,85.2 285.9,86.1 286.2,85.7 286.5,86.0 286.8,85.2 287.1,85.0 287.4,84.7 287.6,84.7 287.9,84.9 288.2,84.4 288.5,84.8 288.8,84.7 289.0,85.4 289.3,85.5 289.6,85.4 289.9,85.2 290.2,85.7 290.5,84.9 290.7,84.5 291.0,85.5 291.3,84.9 291.6,85.0 291.9,84.8 292.2,85.0 292.4,85.1 292.7,85.0 293.0,85.2 293.3,85.6 293.6,85.7 293.8,85.6 294.1,85.4 294.4,85.1 294.7,85.0 295.0,84.7 295.3,85.1 295.5,84.6 295.8,84.5 296.1,85.1 296.4,85.8 296.7,85.2 297.0,85.8 297.2,86.6 297.5,85.7 297.8,85.2 298.1,85.0 298.4,84.6 298.6,84.6 298.9,84.8 299.2,85.5 299.5,85.4 299.8,85.3 300.1,85.4 300.3,86.0 300.6,86.0 300.9,85.6 301.2,86.1 301.5,85.9 301.7,85.1 302.0,84.8 302.3,85.0 302.6,85.5 302.9,85.0 303.2,85.6 303.4,85.3 303.7,85.7 304.0,85.7 304.3,85.6 304.6,85.8 304.9,85.2 305.1,84.9 305.4,84.9 305.7,84.5 306.0,85.0 306.3,84.7 306.5,85.1 306.8,85.7 307.1,85.7 307.4,85.9 307.7,86.0 308.0,85.7 308.2,85.3 308.5,85.4 308.8,85.1 309.1,85.4 309.4,84.8 309.7,84.6 309.9,84.8 310.2,85.2 310.5,85.7 310.8,86.0 311.1,85.9 311.3,86.2 311.6,86.1 311.9,85.2 312.2,85.5 312.5,84.5 312.8,85.3 313.0,84.8 313.3,85.3 313.6,85.1 313.9,85.7 314.2,85.6 314.4,85.9 314.7,86.0 315.0,85.6 315.3,85.2 315.6,85.5 315.9,84.9 316.1,84.9 316.4,84.9 316.7,84.3 317.0,85.7 317.3,85.5 317.6,86.1 317.8,85.8 318.1,85.9 318.4,84.7 318.7,85.6 319.0,85.0 319.2,84.9 319.5,85.2 319.8,84.8 320.1,84.4 320.4,85.0 320.7,85.2 320.9,85.3 321.2,86.1 321.5,86.1 321.8,85.8 322.1,85.6 322.4,85.9 322.6,85.5 322.9,85.2 323.2,85.0 323.5,84.7 323.8,84.9 324.0,85.1 324.3,85.8 324.6,85.9 324.9,85.7 325.2,86.3 325.5,85.8 325.7,85.9 326.0,85.8 326.3,85.1 326.6,85.3 326.9,85.2 327.1,85.1 327.4,85.0 327.7,84.4 328.0,86.1 328.3,85.7 328.6,85.9 328.8,85.6 329.1,85.9 329.4,86.4 329.7,85.0 330.0,85.5 330.3,85.0 330.5,85.3 330.8,85.3 331.1,85.3 331.4,85.1 331.7,85.4 331.9,86.0 332.2,85.8 332.5,86.0 332.8,85.7 333.1,85.5 333.4,85.1 333.6,85.3 333.9,85.0 334.2,84.9 334.5,85.0 334.8,85.5 335.1,85.0 335.3,85.9 335.6,85.7 335.9,85.9 336.2,85.5 336.5,86.3 336.7,84.8 337.0,85.3 337.3,85.4 337.6,84.9 337.9,84.4 338.2,85.0 338.4,85.7 338.7,85.8 339.0,85.4 339.3,86.3 339.6,86.0 339.8,85.9 340.1,84.9 340.4,85.4 340.7,84.7 341.0,85.2 341.3,85.2 341.5,84.8 341.8,85.1 342.1,86.0 342.4,85.6 342.7,85.7 343.0,86.1 343.2,85.8 343.5,85.6 343.8,85.6 344.1,85.4 344.4,85.2 344.6,85.1 344.9,85.4 345.2,85.2 345.5,85.8 345.8,85.6 346.1,85.9 346.3,86.2 346.6,85.7 346.9,85.2 347.2,85.2 347.5,85.7 347.8,84.8 348.0,84.9 348.3,85.0 348.6,85.3 348.9,85.3 349.2,85.1 349.4,85.6 349.7,86.0 350.0,86.2 350.3,86.0 350.6,85.5 350.9,84.9 351.1,85.6 351.4,85.1 351.7,85.1 352.0,85.3 352.3,85.1 352.5,85.3 352.8,86.1 353.1,86.2 353.4,85.6 353.7,85.9 354.0,85.7 354.2,85.8 354.5,85.5 354.8,85.0 355.1,85.2 355.4,85.3 355.7,85.1 355.9,85.1 356.2,85.9 356.5,85.5 356.8,85.7 357.1,86.2 357.3,85.9 357.6,85.7 357.9,85.3 358.2,85.1 358.5,85.5 358.8,85.4 359.0,84.8 359.3,85.2 359.6,85.3 359.9,85.6 360.2,85.4 360.5,86.3 360.7,85.7 361.0,86.1 361.3,85.4 361.6,85.0 361.9,85.6 362.1,84.9 362.4,85.1 362.7,85.2 363.0,85.3 363.3,85.9 363.6,86.1 363.8,85.8 364.1,85.8 364.4,86.1 364.7,86.2 365.0,84.8 365.2,85.0 365.5,85.0 365.8,85.3 366.1,85.2 366.4,85.2 366.7,85.7 366.9,85.2 367.2,85.9 367.5,85.9 367.8,86.3 368.1,86.1 368.4,85.9 368.6,85.3 368.9,85.3 369.2,85.1 369.5,85.0 369.8,85.1 370.0,84.9 370.3,85.6 370.6,86.1 370.9,86.0 371.2,85.6 371.5,86.1 371.7,85.8 372.0,85.6 372.3,85.2 372.6,85.1 372.9,85.3 373.2,85.2 373.4,85.0 373.7,85.2 374.0,85.5 374.3,85.7 374.6,86.1 374.8,86.1 375.1,85.6 375.4,86.0 375.7,85.4 376.0,85.7 376.3,85.2 376.5,85.3 376.8,85.5 377.1,85.2 377.4,85.8 377.7,85.9 377.9,86.1 378.2,86.2 378.5,85.6 378.8,85.9 379.1,85.5 379.4,85.7 379.6,85.3 379.9,85.2 380.2,85.2 380.5,85.4 380.8,85.5 381.1,85.3 381.3,86.0 381.6,86.1 381.9,86.1 382.2,85.2 382.5,85.2 382.7,85.3 383.0,85.0 383.3,85.3 383.6,85.1 383.9,85.1 384.2,85.3 384.4,85.9 384.7,86.1 385.0,85.9 385.3,86.0 385.6,86.6 385.9,85.8 386.1,85.2 386.4,85.5 386.7,85.1 387.0,85.5 387.3,84.9 387.5,85.6 387.8,85.9 388.1,85.8 388.4,85.3 388.7,86.2 389.0,86.4 389.2,85.8 389.5,85.6 389.8,85.0 390.1,85.6 390.4,85.6 390.6,85.2 390.9,85.1 391.2,85.3 391.5,85.3 391.8,86.3 392.1,86.3 392.3,86.1 392.6,85.7 392.9,85.7 393.2,85.7 393.5,85.6 393.8,84.9 394.0,84.8 394.3,84.4 394.6,85.3 394.9,85.1 395.2,86.1 395.4,86.1 395.7,86.3 396.0,86.2 396.3,86.2 396.6,85.9 396.9,85.5 397.1,85.4 397.4,84.9 397.7,85.1 398.0,85.2 398.3,85.0 398.6,85.6 398.8,85.8 399.1,86.0 399.4,86.1 399.7,85.8 400.0,86.1 400.2,85.3 400.5,84.9 400.8,84.9 401.1,85.3 401.4,85.6 401.7,85.4 401.9,85.5 402.2,85.5 402.5,86.0 402.8,86.2 403.1,85.6 403.3,86.1 403.6,85.4 403.9,85.2 404.2,85.7 404.5,85.1 404.8,85.3 405.0,85.5 405.3,86.0 405.6,86.1 405.9,85.8 406.2,86.2 406.5,86.0 406.7,86.3 407.0,85.9 407.3,85.7 407.6,85.8 407.9,85.7 408.1,85.0 408.4,85.1 408.7,85.6 409.0,85.6 409.3,85.6 409.6,85.5 409.8,86.3 410.1,85.9 410.4,85.3 410.7,85.7 411.0,85.1 411.3,86.0 411.5,84.7 411.8,85.1 412.1,85.8 412.4,85.2 412.7,85.4 412.9,85.6 413.2,85.7 413.5,86.1 413.8,86.2 414.1,86.0 414.4,85.6 414.6,85.3 414.9,85.4 415.2,85.1 415.5,84.9 415.8,85.3 416.0,84.9 416.3,85.2 416.6,86.3 416.9,86.3 417.2,86.5 417.5,86.3 417.7,85.6 418.0,85.8 418.3,85.6 418.6,85.3 418.9,84.9 419.2,85.4 419.4,85.6 419.7,85.4 420.0,85.8 420.3,85.9 420.6,85.9 420.8,86.3 421.1,85.8 421.4,85.8 421.7,85.1 422.0,85.0 422.3,85.5 422.5,84.8 422.8,85.7 423.1,85.2 423.4,85.8 423.7,86.3 424.0,86.4 424.2,86.2 424.5,86.0 424.8,86.0 425.1,85.4 425.4,85.7 425.6,85.2 425.9,85.2 426.2,85.8 426.5,85.4 426.8,86.1 427.1,86.7 427.3,86.3 427.6,86.2 427.9,85.8 428.2,86.0 428.5,85.2 428.7,85.0 429.0,84.9 429.3,84.8 429.6,85.1 429.9,85.5 430.2,85.4 430.4,85.6 430.7,86.0 431.0,86.2 431.3,86.6 431.6,85.8 431.9,85.7 432.1,85.9 432.4,85.3 432.7,85.0 433.0,85.2 433.3,85.1 433.5,85.3 433.8,86.2 434.1,86.0 434.4,86.0 434.7,85.9 435.0,85.7 435.2,86.5 435.5,85.7 435.8,85.2 436.1,84.9 436.4,84.7 436.7,85.5 436.9,85.5 437.2,85.9 437.5,85.6 437.8,86.4 438.1,85.8 438.3,85.9 438.6,85.9 438.9,86.4 439.2,85.8 439.5,85.1 439.8,85.6 440.0,85.3 440.3,85.3 440.6,85.2 440.9,85.7 441.2,85.9 441.4,86.2 441.7,86.2 442.0,86.1 442.3,85.7 442.6,85.7 442.9,85.2 443.1,85.8 443.4,84.9 443.7,85.3 444.0,85.1 444.3,85.6 444.6,85.6 444.8,85.6 445.1,86.3 445.4,86.1 445.7,86.1 446.0,85.8 446.2,86.0 446.5,85.4 446.8,85.3 447.1,85.4 447.4,85.4 447.7,86.0 447.9,85.4 448.2,85.9 448.5,85.6 448.8,86.4 449.1,86.4 449.4,85.9 449.6,86.2 449.9,85.4 450.2,85.5 450.5,85.3 450.8,85.2 451.0,85.4 451.3,85.1 451.6,85.7 451.9,86.4 452.2,85.9 452.5,86.6 452.7,86.0 453.0,86.2 453.3,85.8 453.6,85.0 453.9,85.4 454.1,85.4 454.4,85.5 454.7,85.6 455.0,85.4 455.3,86.3 455.6,86.5 455.8,86.0 456.1,86.6 456.4,86.1 456.7,85.4 457.0,85.5 457.3,85.4 457.5,85.4 457.8,85.5 458.1,85.6 458.4,85.6 458.7,85.5 458.9,85.8 459.2,86.4 459.5,86.4 459.8,85.9 460.1,86.4 460.4,85.7 460.6,85.5 460.9,85.6 461.2,85.5 461.5,85.3 461.8,86.0 462.1,86.1 462.3,86.2 462.6,86.1 462.9,86.6 463.2,85.8 463.5,86.1 463.7,85.8 464.0,85.6 464.3,85.5 464.6,85.5 464.9,85.0 465.2,85.4 465.4,85.7 465.7,85.6 466.0,86.3 466.3,86.0 466.6,86.2 466.8,86.3 467.1,85.6 467.4,86.1 467.7,85.2 468.0,85.5 468.3,85.2 468.5,85.0 468.8,85.4 469.1,86.0 469.4,86.0 469.7,86.3 470.0,86.6 470.2,86.5 470.5,86.0 470.8,85.6 471.1,86.0 471.4,85.4 471.6,85.1 471.9,85.3 472.2,85.8 472.5,85.4 472.8,86.3 473.1,85.9 473.3,85.8 473.6,86.8 473.9,86.0 474.2,85.8 474.5,85.6 474.8,85.6 475.0,85.4 475.3,85.7 475.6,85.4 475.9,85.4 476.2,86.0 476.4,86.3 476.7,86.3 477.0,86.3 477.3,86.2 477.6,86.0 477.9,85.7 478.1,85.9 478.4,86.1 478.7,85.1 479.0,84.9 479.3,85.9 479.5,85.9 479.8,85.9 480.1,85.9 480.4,86.1 480.7,85.9 481.0,86.1 481.2,85.8 481.5,85.5 481.8,85.6 482.1,85.0 482.4,85.1 482.7,85.1 482.9,85.7 483.2,85.5 483.5,86.4 483.8,86.1 484.1,87.0 484.3,86.5 484.6,85.8 484.9,85.9 485.2,85.5 485.5,85.8 485.8,84.9 486.0,85.2 486.3,85.5 486.6,85.6 486.9,85.9 487.2,85.8 487.5,86.2 487.7,86.7 488.0,86.2 488.3,85.5 488.6,85.5 488.9,85.6 489.1,85.2 489.4,85.3 489.7,85.2 490.0,86.1 490.3,86.1 490.6,85.9 490.8,86.3 491.1,86.2 491.4,85.6 491.7,86.1 492.0,85.7 492.2,85.7 492.5,85.6 492.8,85.3 493.1,85.8 493.4,86.1 493.7,85.4 493.9,86.0 494.2,85.9 494.5,86.2 494.8,86.2 495.1,85.9 495.4,85.7 495.6,86.0 495.9,85.1 496.2,85.6 496.5,85.3 496.8,84.7 497.0,85.6 497.3,85.4 497.6,86.2 497.9,86.1 498.2,86.3 498.5,86.1 498.7,86.3 499.0,86.1 499.3,85.5 499.6,85.8 499.9,85.6 500.2,85.2 500.4,85.7 500.7,86.0 501.0,86.3 501.3,86.1 501.6,86.4 501.8,86.2 502.1,86.2 502.4,85.4 502.7,85.8 503.0,86.0 503.3,85.3 503.5,85.3 503.8,85.4 504.1,86.1 504.4,85.6 504.7,86.1 504.9,86.3 505.2,86.8 505.5,86.1 505.8,86.1 506.1,85.4 506.4,85.7 506.6,85.8 506.9,85.3 507.2,85.6 507.5,85.4 507.8,86.1 508.1,86.0 508.3,86.3 508.6,86.3 508.9,86.4 509.2,86.4 509.5,86.0 509.7,85.9 510.0,85.5 510.3,85.4 510.6,86.0 510.9,85.5 511.2,85.3 511.4,85.8 511.7,85.9 512.0,86.1 512.3,86.4 512.6,86.6 512.9,85.8 513.1,85.5 513.4,85.4 513.7,85.3 514.0,85.2 514.3,85.4 514.5,85.5 514.8,85.8 515.1,85.9 515.4,86.5 515.7,86.5 516.0,86.1 516.2,86.3 516.5,86.6 516.8,85.7 517.1,86.2 517.4,84.8 517.6,85.2 517.9,85.3 518.2,85.8 518.5,86.2 518.8,86.2 519.1,86.3 519.3,86.5 519.6,86.2 519.9,85.9 520.2,85.7 520.5,85.9 520.8,86.0 521.0,85.4 521.3,85.6 521.6,85.4 521.9,85.3 522.2,85.6 522.4,86.1 522.7,86.0 523.0,85.8 523.3,86.2 523.6,85.9 523.9,85.5 524.1,85.5 524.4,85.5 524.7,85.6 525.0,85.5 525.3,85.8 525.6,85.7 525.8,86.2 526.1,85.9 526.4,86.0 526.7,86.6 527.0,85.8 527.2,86.0 527.5,85.2 527.8,85.3 528.1,85.4 528.4,85.2 528.7,85.7 528.9,85.7 529.2,85.9 529.5,86.3 529.8,86.2 530.1,86.6 530.3,86.0 530.6,86.3 530.9,85.6 531.2,85.4 531.5,85.2 531.8,85.5 532.0,84.6 532.3,85.7 532.6,85.9 532.9,86.4 533.2,85.9 533.5,86.5 533.7,86.0 534.0,86.4 534.3,85.8"/>
<polyline fill="none" stroke="#2fe02f" stroke-width="0.7" stroke-linejoin="round" points="26.3,40.7 26.6,48.4 26.9,51.0 27.1,51.6 27.4,55.5 27.7,56.8 28.0,60.3 28.3,63.3 28.6,62.4 28.8,61.2 29.1,62.6 29.4,64.7 29.7,63.4 30.0,61.7 30.3,62.7 30.5,63.7 30.8,66.2 31.1,69.3 31.4,68.7 31.7,69.3 31.9,71.1 32.2,68.6 32.5,68.7 32.8,73.1 33.1,72.5 33.4,68.8 33.6,69.7 33.9,71.0 34.2,72.1 34.5,74.9 34.8,75.6 35.0,75.4 35.3,72.0 35.6,73.7 35.9,74.3 36.2,74.3 36.5,77.2 36.7,74.9 37.0,73.9 37.3,74.9 37.6,78.3 37.9,78.4 38.2,77.7 38.4,74.9 38.7,74.0 39.0,77.3 39.3,78.7 39.6,79.7 39.8,80.1 40.1,78.3 40.4,77.1 40.7,77.8 41.0,78.4 41.3,79.9 41.5,77.5 41.8,78.3 42.1,82.3 42.4,80.7 42.7,80.0 43.0,81.1 43.2,78.6 43.5,79.2 43.8,79.3 44.1,79.2 44.4,78.5 44.6,76.2 44.9,78.6 45.2,80.5 45.5,81.0 45.8,80.6 46.1,78.3 46.3,80.3 46.6,80.7 46.9,80.6 47.2,82.7 47.5,83.2 47.7,79.9 48.0,77.9 48.3,80.1 48.6,80.9 48.9,80.1 49.2,81.7 49.4,82.9 49.7,78.3 50.0,78.8 50.3,81.2 50.6,80.1 50.9,81.1 51.1,81.8 51.4,80.0 51.7,79.9 52.0,80.6 52.3,81.2 52.5,81.3 52.8,81.0 53.1,79.9 53.4,79.3 53.7,81.1 54.0,84.3 54.2,83.4 54.5,80.2 54.8,81.9 55.1,84.7 55.4,85.0 55.7,82.1 55.9,82.1 56.2,83.5 56.5,82.2 56.8,80.6 57.1,80.9 57.3,82.2 57.6,82.8 57.9,81.2 58.2,79.7 58.5,81.4 58.8,83.7 59.0,84.4 59.3,82.6 59.6,82.5 59.9,82.3 60.2,81.3 60.4,81.9 60.7,81.7 61.0,81.5 61.3,82.9 61.6,83.7 61.9,80.9 62.1,81.7 62.4,84.2 62.7,82.3 63.0,82.0 63.3,83.7 63.6,84.7 63.8,83.6 64.1,81.6 64.4,80.9 64.7,81.8 65.0,82.1 65.2,83.1 65.5,83.8 65.8,83.6 66.1,83.6 66.4,82.4 66.7,81.7 66.9,83.2 67.2,83.0 67.5,82.7 67.8,84.6 68.1,84.3 68.4,84.7 68.6,84.6 68.9,83.2 69.2,83.4 69.5,83.2 69.8,83.4 70.0,83.8 70.3,84.7 70.6,84.7 70.9,84.3 71.2,84.7 71.5,84.1 71.7,83.6 72.0,84.9 72.3,86.2 72.6,85.2 72.9,83.7 73.1,83.2 73.4,82.9 73.7,82.2 74.0,82.6 74.3,83.6 74.6,84.8 74.8,85.5 75.1,85.1 75.4,84.2 75.7,83.7 76.0,83.9 76.3,84.2 76.5,83.8 76.8,83.5 77.1,83.8 77.4,83.8 77.7,84.4 77.9,85.4 78.2,84.7 78.5,83.6 78.8,84.2 79.1,84.8 79.4,83.0 79.6,83.3 79.9,85.1 80.2,84.4 80.5,85.1 80.8,85.2 81.1,83.2 81.3,82.6 81.6,83.5 81.9,83.7 82.2,84.1 82.5,83.9 82.7,84.1 83.0,85.0 83.3,84.9 83.6,84.0 83.9,83.8 84.2,84.0 84.4,85.6 84.7,85.3 85.0,82.3 85.3,82.3 85.6,84.1 85.8,85.5 86.1,85.1 86.4,85.2 86.7,84.9 87.0,84.6 87.3,84.5 87.5,83.3 87.8,85.2 88.1,85.9 88.4,85.1 88.7,86.2 89.0,86.1 89.2,85.4 89.5,84.3 89.8,85.2 90.1,85.2 90.4,82.9 90.6,83.2 90.9,84.2 91.2,84.6 91.5,85.7 91.8,85.3 92.1,84.4 92.3,84.3 92.6,82.9 92.9,82.9 93.2,84.3 93.5,83.8 93.8,84.9 94.0,86.5 94.3,85.9 94.6,85.7 94.9,85.0 95.2,84.8 95.4,84.2 95.7,83.1 96.0,83.7 96.3,84.8 96.6,84.9 96.9,84.2 97.1,85.3 97.4,85.5 97.7,84.5 98.0,84.6 98.3,84.1 98.5,83.5 98.8,84.9 99.1,85.6 99.4,85.6 99.7,85.3 100.0,85.3 100.2,85.2 100.5,84.4 100.8,84.4 101.1,84.7 101.4,86.2 101.7,85.1 101.9,84.3 102.2,84.6 102.5,84.2 102.8,84.6 103.1,83.8 103.3,84.0 103.6,84.3 103.9,85.3 104.2,85.7 104.5,85.0 104.8,85.5 105.0,85.4 105.3,85.1 105.6,84.2 105.9,85.5 106.2,86.4 106.5,85.7 106.7,85.1 107.0,85.0 107.3,85.4 107.6,85.4 107.9,85.2 108.1,84.5 108.4,85.1 108.7,85.6 109.0,86.2 109.3,86.0 109.6,84.8 109.8,85.3 110.1,85.1 110.4,86.0 110.7,87.6 111.0,87.2 111.2,86.5 111.5,85.7 111.8,85.5 112.1,85.6 112.4,85.2 112.7,85.4 112.9,86.5 113.2,86.9 113.5,85.1 113.8,85.7 114.1,86.9 114.4,84.9 114.6,84.5 114.9,85.8 115.2,86.0 115.5,85.0 115.8,84.3 116.0,85.3 116.3,85.6 116.6,85.1 116.9,84.9 117.2,84.3 117.5,85.1 117.7,86.6 118.0,86.2 118.3,84.5 118.6,84.4 118.9,85.2 119.2,84.3 119.4,85.0 119.7,85.8 120.0,85.5 120.3,86.0 120.6,85.6 120.8,84.9 121.1,85.4 121.4,86.5 121.7,86.8 122.0,86.3 122.3,85.7 122.5,85.8 122.8,86.1 123.1,86.5 123.4,85.4 123.7,85.3 123.9,85.5 124.2,85.2 124.5,85.7 124.8,86.8 125.1,86.1 125.4,85.2 125.6,85.2 125.9,86.3 126.2,87.7 126.5,87.7 126.8,87.4 127.1,85.8 127.3,85.0 127.6,85.6 127.9,85.8 128.2,85.4 128.5,85.6 128.7,85.8 129.0,85.6 129.3,86.9 129.6,87.2 129.9,85.4 130.2,85.4 130.4,86.2 130.7,86.3 131.0,86.5 131.3,85.6 131.6,85.4 131.9,86.3 132.1,87.6 132.4,87.5 132.7,87.1 133.0,87.8 133.3,86.5 133.5,85.2 133.8,86.6 134.1,86.5 134.4,85.3 134.7,86.2 135.0,86.0 135.2,86.4 135.5,87.4 135.8,87.3 136.1,87.3 136.4,86.1 136.6,86.3 136.9,87.2 137.2,87.1 137.5,86.4 137.8,86.1 138.1,85.8 138.3,86.0 138.6,87.0 138.9,86.9 139.2,86.3 139.5,86.5 139.8,86.4 140.0,85.1 140.3,85.5 140.6,86.4 140.9,85.5 141.2,85.8 141.4,86.9 141.7,87.1 142.0,86.5 142.3,85.7 142.6,86.0 142.9,86.2 143.1,85.6 143.4,85.2 143.7,86.5 144.0,86.9 144.3,86.2 144.6,85.8 144.8,86.0 145.1,86.7 145.4,86.8 145.7,87.3 146.0,87.1 146.2,86.6 146.5,86.3 146.8,86.6 147.1,87.0 147.4,87.0 147.7,87.3 147.9,86.4 148.2,85.9 148.5,85.8 148.8,86.3 149.1,86.7 149.3,87.1 149.6,87.4 149.9,86.8 150.2,86.3 150.5,86.0 150.8,86.4 151.0,86.1 151.3,85.9 151.6,86.1 151.9,85.8 152.2,86.1 152.5,86.6 152.7,86.4 153.0,86.5 153.3,86.5 153.6,85.8 153.9,85.6 154.1,86.3 154.4,87.3 154.7,87.1 155.0,86.6 155.3,86.0 155.6,86.2 155.8,86.8 156.1,86.3 156.4,86.4 156.7,86.8 157.0,85.8 157.3,85.1 157.5,85.6 157.8,86.1 158.1,86.9 158.4,86.8 158.7,86.3 158.9,86.4 159.2,86.7 159.5,86.8 159.8,86.7 160.1,86.5 160.4,85.8 160.6,85.8 160.9,87.2 161.2,87.8 161.5,87.8 161.8,87.7 162.0,86.7 162.3,86.2 162.6,86.7 162.9,86.8 163.2,86.9 163.5,87.7 163.7,88.0 164.0,87.7 164.3,86.3 164.6,86.2 164.9,86.0 165.2,85.1 165.4,86.0 165.7,86.8 166.0,87.0 166.3,87.0 166.6,86.4 166.8,86.4 167.1,86.3 167.4,85.8 167.7,86.1 168.0,86.5 168.3,86.6 168.5,86.6 168.8,87.1 169.1,87.1 169.4,86.5 169.7,87.1 170.0,86.2 170.2,86.3 170.5,87.7 170.8,87.1 171.1,87.6 171.4,88.1 171.6,87.9 171.9,88.0 172.2,87.3 172.5,86.8 172.8,86.2 173.1,86.0 173.3,86.0 173.6,86.1 173.9,86.8 174.2,86.6 174.5,86.6 174.7,87.4 175.0,86.5 175.3,85.9 175.6,86.5 175.9,86.5 176.2,86.2 176.4,87.1 176.7,87.6 177.0,87.5 177.3,87.4 177.6,87.2 177.9,86.6 178.1,86.1 178.4,87.1 178.7,87.3 179.0,87.5 179.3,87.5 179.5,86.7 179.8,86.6 180.1,87.7 180.4,88.0 180.7,86.7 181.0,86.1 181.2,85.5 181.5,86.5 181.8,87.2 182.1,87.1 182.4,87.2 182.7,86.8 182.9,86.6 183.2,87.0 183.5,87.2 183.8,87.5 184.1,88.2 184.3,87.5 184.6,86.9 184.9,87.8 185.2,88.2 185.5,87.5 185.8,86.4 186.0,85.9 186.3,86.3 186.6,87.6 186.9,88.0 187.2,87.0 187.4,86.7 187.7,86.8 188.0,87.1 188.3,86.5 188.6,85.7 188.9,86.5 189.1,87.6 189.4,86.7 189.7,86.5 190.0,86.9 190.3,85.8 190.6,86.8 190.8,87.5 191.1,87.2 191.4,87.1 191.7,86.8 192.0,86.2 192.2,86.1 192.5,87.0 192.8,86.7 193.1,86.8 193.4,87.5 193.7,86.4 193.9,86.6 194.2,87.8 194.5,87.4 194.8,87.7 195.1,88.7 195.4,87.7 195.6,87.1 195.9,87.9 196.2,87.7 196.5,87.9 196.8,88.2 197.0,87.5 197.3,85.5 197.6,84.9 197.9,85.9 198.2,87.4 198.5,88.0 198.7,87.9 199.0,87.5 199.3,87.1 199.6,87.4 199.9,87.4 200.1,87.6 200.4,88.3 200.7,87.8 201.0,87.7 201.3,88.5 201.6,88.0 201.8,87.8 202.1,87.6 202.4,86.8 202.7,86.8 203.0,87.2 203.3,87.3 203.5,87.0 203.8,87.8 204.1,88.1 204.4,87.7 204.7,88.4 204.9,88.0 205.2,87.6 205.5,87.3 205.8,86.7 206.1,88.0 206.4,88.5 206.6,86.6 206.9,86.2 207.2,86.4 207.5,86.8 207.8,88.1 208.1,88.6 208.3,87.7 208.6,86.7 208.9,87.4 209.2,87.9 209.5,87.5 209.7,88.2 210.0,88.4 210.3,86.9 210.6,85.8 210.9,86.6 211.2,86.8 211.4,86.9 211.7,88.1 212.0,88.9 212.3,88.1 212.6,87.3 212.8,86.7 213.1,86.3 213.4,87.1 213.7,87.4 214.0,86.5 214.3,86.2 214.5,87.5 214.8,88.6 215.1,88.1 215.4,86.7 215.7,87.4 216.0,87.8 216.2,87.4 216.5,87.0 216.8,87.1 217.1,86.8 217.4,87.0 217.6,88.0 217.9,88.1 218.2,88.9 218.5,89.1 218.8,87.5 219.1,87.1 219.3,87.9 219.6,87.8 219.9,88.4 220.2,88.7 220.5,87.5 220.8,87.1 221.0,87.7 221.3,87.6 221.6,86.4 221.9,87.0 222.2,87.5 222.4,88.0 222.7,89.2 223.0,88.3 223.3,87.4 223.6,87.6 223.9,87.9 224.1,88.1 224.4,87.5 224.7,86.6 225.0,87.0 225.3,88.5 225.5,87.9 225.8,86.9 226.1,87.2 226.4,87.3 226.7,86.6 227.0,86.7 227.2,87.5 227.5,88.3 227.8,88.8 228.1,88.3 228.4,88.1 228.7,87.6 228.9,87.9 229.2,87.3 229.5,87.4 229.8,88.2 230.1,86.9 230.3,86.9 230.6,87.2 230.9,87.0 231.2,87.6 231.5,87.1 231.8,86.9 232.0,87.6 232.3,88.1 232.6,89.0 232.9,88.8 233.2,88.2 233.5,88.2 233.7,87.7 234.0,88.5 234.3,89.4 234.6,89.1 234.9,88.1 235.1,87.5 235.4,88.3 235.7,88.6 236.0,87.9 236.3,87.6 236.6,88.0 236.8,88.7 237.1,88.3 237.4,87.2 237.7,87.5 238.0,87.1 238.2,87.4 238.5,88.1 238.8,87.7 239.1,87.4 239.4,87.8 239.7,88.0 239.9,88.1 240.2,87.8 240.5,87.2 240.8,87.5 241.1,87.1 241.4,87.8 241.6,88.7 241.9,87.3 242.2,87.4 242.5,88.8 242.8,88.0 243.0,87.1 243.3,88.2 243.6,88.1 243.9,88.1 244.2,89.0 244.5,88.6 244.7,88.3 245.0,88.7 245.3,88.6 245.6,88.6 245.9,88.4 246.2,87.6 246.4,86.6 246.7,86.3 247.0,87.7 247.3,88.8 247.6,88.6 247.8,87.4 248.1,87.0 248.4,87.9 248.7,87.9 249.0,88.1 249.3,88.1 249.5,87.8 249.8,87.9 250.1,87.4 250.4,87.9 250.7,88.0 250.9,88.4 251.2,88.6 251.5,87.6 251.8,85.8 252.1,86.0 252.4,87.7 252.6,88.5 252.9,88.1 253.2,88.3 253.5,89.2 253.8,88.3 254.1,88.5 254.3,87.9 254.6,86.9 254.9,87.9 255.2,88.6 255.5,88.9 255.7,89.3 256.0,88.5 256.3,87.6 256.6,87.7 256.9,87.8 257.2,88.2 257.4,88.2 257.7,88.6 258.0,88.8 258.3,87.5 258.6,86.9 258.9,87.8 259.1,88.5 259.4,87.7 259.7,86.8 260.0,88.0 260.3,89.0 260.5,88.2 260.8,87.5 261.1,88.0 261.4,88.2 261.7,88.0 262.0,87.2 262.2,86.9 262.5,87.7 262.8,87.2 263.1,86.1 263.4,86.3 263.6,88.0 263.9,88.5 264.2,88.7 264.5,89.1 264.8,89.1 265.1,89.3 265.3,89.1 265.6,88.9 265.9,88.4 266.2,87.6 266.5,88.0 266.8,88.8 267.0,88.4 267.3,88.8 267.6,90.0 267.9,88.8 268.2,87.6 268.4,87.5 268.7,87.9 269.0,88.9 269.3,89.0 269.6,88.2 269.9,88.3 270.1,88.9 270.4,89.2 270.7,89.4 271.0,88.4 271.3,87.7 271.6,88.6 271.8,89.2 272.1,89.0 272.4,88.3 272.7,88.5 273.0,88.9 273.2,89.3 273.5,89.8 273.8,88.6 274.1,87.7 274.4,88.4 274.7,89.1 274.9,88.3 275.2,88.1 275.5,88.7 275.8,88.3 276.1,88.0 276.3,87.7 276.6,87.5 276.9,88.2 277.2,88.6 277.5,88.4 277.8,88.9 278.0,89.3 278.3,88.3 278.6,88.5 278.9,88.2 279.2,86.5 279.5,86.4 279.7,86.9 280.0,87.5 280.3,87.5 280.6,88.0 280.9,88.6 281.1,88.6 281.4,87.6 281.7,87.1 282.0,88.3 282.3,88.9 282.6,88.8 282.8,88.7 283.1,88.3 283.4,87.3 283.7,88.2 284.0,88.7 284.3,87.7 284.5,88.5 284.8,88.8 285.1,88.7 285.4,88.6 285.7,87.9 285.9,88.6 286.2,88.5 286.5,88.0 286.8,87.9 287.1,87.6 287.4,87.7 287.6,87.6 287.9,87.7 288.2,87.9 288.5,88.8 288.8,88.5 289.0,87.8 289.3,87.2 289.6,88.4 289.9,89.4 290.2,88.0 290.5,88.5 290.7,89.1 291.0,87.6 291.3,86.9 291.6,88.2 291.9,88.2 292.2,87.3 292.4,87.6 292.7,87.9 293.0,88.2 293.3,88.7 293.6,89.1 293.8,88.4 294.1,88.1 294.4,87.6 294.7,87.8 295.0,89.6 295.3,89.2 295.5,87.1 295.8,86.1 296.1,86.9 296.4,88.4 296.7,88.1 297.0,88.1 297.2,88.5 297.5,88.3 297.8,89.1 298.1,88.4 298.4,89.0 298.6,90.0 298.9,88.7 299.2,88.5 299.5,88.3 299.8,88.2 300.1,88.7 300.3,87.8 300.6,87.7 300.9,88.7 301.2,89.1 301.5,89.3 301.7,88.6 302.0,88.0 302.3,88.3 302.6,88.8 302.9,88.5 303.2,89.0 303.4,89.4 303.7,88.8 304.0,89.0 304.3,88.8 304.6,88.8 304.9,89.2 305.1,88.1 305.4,87.4 305.7,87.7 306.0,88.0 306.3,88.1 306.5,87.8 306.8,87.7 307.1,87.0 307.4,87.6 307.7,88.5 308.0,88.5 308.2,90.1 308.5,90.7 308.8,89.2 309.1,88.3 309.4,88.5 309.7,88.3 309.9,87.5 310.2,88.2 310.5,88.1 310.8,87.2 311.1,87.6 311.3,88.7 311.6,87.9 311.9,86.6 312.2,86.8 312.5,87.3 312.8,88.4 313.0,88.3 313.3,87.8 313.6,87.7 313.9,87.8 314.2,88.7 314.4,89.0 314.7,88.3 315.0,88.4 315.3,87.5 315.6,87.4 315.9,89.0 316.1,88.4 316.4,87.8 316.7,88.3 317.0,88.7 317.3,88.5 317.6,88.1 317.8,87.9 318.1,88.4 318.4,88.6 318.7,88.1 319.0,87.9 319.2,89.7 319.5,90.4 319.8,89.4 320.1,89.1 320.4,88.7 320.7,88.2 320.9,88.0 321.2,88.4 321.5,88.7 321.8,87.9 322.1,88.2 322.4,88.8 322.6,87.9 322.9,87.8 323.2,89.4 323.5,89.4 323.8,88.7 324.0,88.9 324.3,88.3 324.6,88.0 324.9,88.6 325.2,88.4 325.5,88.1 325.7,88.5 326.0,88.5 326.3,88.5 326.6,88.7 326.9,89.1 327.1,88.9 327.4,89.1 327.7,89.6 328.0,88.3 328.3,86.9 328.6,86.8 328.8,87.4 329.1,88.3 329.4,88.6 329.7,88.7 330.0,89.1 330.3,88.7 330.5,88.6 330.8,88.6 331.1,89.1 331.4,90.0 331.7,88.8 331.9,88.4 332.2,89.1 332.5,88.9 332.8,89.0 333.1,89.2 333.4,89.7 333.6,89.9 333.9,89.2 334.2,88.8 334.5,88.1 334.8,88.8 335.1,88.4 335.3,88.3 335.6,89.9 335.9,90.7 336.2,89.1 336.5,88.1 336.7,89.1 337.0,89.4 337.3,89.6 337.6,88.7 337.9,88.2 338.2,88.1 338.4,88.1 338.7,89.9 339.0,89.5 339.3,88.6 339.6,89.1 339.8,88.2 340.1,88.2 340.4,88.4 340.7,88.3 341.0,89.1 341.3,88.9 341.5,88.9 341.8,88.5 342.1,87.9 342.4,88.4 342.7,88.5 343.0,88.3 343.2,88.7 343.5,88.6 343.8,88.5 344.1,88.6 344.4,88.6 344.6,87.8 344.9,86.6 345.2,87.6 345.5,88.9 345.8,89.2 346.1,88.8 346.3,88.9 346.6,89.0 346.9,88.0 347.2,88.0 347.5,89.4 347.8,89.5 348.0,88.4 348.3,88.5 348.6,88.5 348.9,88.1 349.2,88.4 349.4,88.8 349.7,89.2 350.0,89.2 350.3,89.0 350.6,88.6 350.9,88.5 351.1,88.8 351.4,89.0 351.7,88.7 352.0,89.4 352.3,89.9 352.5,89.6 352.8,89.3 353.1,89.1 353.4,89.1 353.7,89.4 354.0,89.0 354.2,88.5 354.5,89.5 354.8,89.6 355.1,89.4 355.4,88.7 355.7,88.4 355.9,89.3 356.2,89.1 356.5,89.0 356.8,89.0 357.1,88.3 357.3,88.1 357.6,88.5 357.9,88.1 358.2,88.9 358.5,88.6 358.8,87.9 359.0,88.2 359.3,88.9 359.6,89.0 359.9,88.4 360.2,89.0 360.5,88.1 360.7,87.3 361.0,87.4 361.3,86.9 361.6,87.1 361.9,87.6 362.1,88.1 362.4,88.2 362.7,87.8 363.0,88.9 363.3,89.7 363.6,89.6 363.8,89.3 364.1,88.3 364.4,88.1 364.7,89.1 365.0,89.6 365.2,88.7 365.5,88.8 365.8,89.3 366.1,88.9 366.4,89.6 366.7,89.4 366.9,88.5 367.2,88.6 367.5,89.2 367.8,89.7 368.1,89.6 368.4,89.1 368.6,88.8 368.9,88.9 369.2,88.2 369.5,87.6 369.8,88.7 370.0,89.6 370.3,88.5 370.6,88.4 370.9,88.5 371.2,87.7 371.5,88.5 371.7,89.4 372.0,89.1 372.3,89.3 372.6,89.8 372.9,89.6 373.2,88.8 373.4,88.8 373.7,89.3 374.0,89.3 374.3,89.8 374.6,89.0 374.8,89.4 375.1,90.3 375.4,89.1 375.7,89.4 376.0,89.4 376.3,88.2 376.5,88.8 376.8,89.2 377.1,89.0 377.4,87.9 377.7,86.7 377.9,87.5 378.2,87.9 378.5,88.2 378.8,88.2 379.1,88.2 379.4,89.3 379.6,89.4 379.9,88.7 380.2,89.4 380.5,89.1 380.8,88.4 381.1,88.8 381.3,89.3 381.6,89.4 381.9,88.9 382.2,89.0 382.5,89.1 382.7,89.9 383.0,89.4 383.3,88.9 383.6,90.5 383.9,90.4 384.2,89.8 384.4,89.2 384.7,89.2 385.0,89.3 385.3,89.3 385.6,88.5 385.9,87.8 386.1,88.0 386.4,88.6 386.7,89.2 387.0,89.2 387.3,89.2 387.5,88.5 387.8,89.5 388.1,90.2 388.4,90.1 388.7,90.2 389.0,90.0 389.2,89.8 389.5,90.1 389.8,89.7 390.1,88.8 390.4,89.4 390.6,89.9 390.9,89.3 391.2,89.2 391.5,89.5 391.8,89.0 392.1,88.3 392.3,88.4 392.6,88.9 392.9,88.3 393.2,87.4 393.5,88.1 393.8,87.9 394.0,86.6 394.3,87.5 394.6,88.8 394.9,88.8 395.2,89.4 395.4,89.5 395.7,89.9 396.0,90.0 396.3,90.2 396.6,89.0 396.9,87.4 397.1,87.9 397.4,88.4 397.7,88.5 398.0,88.1 398.3,88.1 398.6,88.3 398.8,89.1 399.1,89.3 399.4,89.1 399.7,89.9 400.0,90.1 400.2,89.4 400.5,88.5 400.8,89.2 401.1,88.9 401.4,87.7 401.7,88.6 401.9,89.5 402.2,89.3 402.5,88.7 402.8,88.9 403.1,89.8 403.3,89.5 403.6,89.9 403.9,90.0 404.2,88.6 404.5,88.5 404.8,88.7 405.0,88.6 405.3,88.6 405.6,88.7 405.9,89.4 406.2,89.6 406.5,89.3 406.7,88.6 407.0,87.9 407.3,88.2 407.6,89.3 407.9,89.8 408.1,89.5 408.4,88.6 408.7,88.4 409.0,89.0 409.3,89.5 409.6,89.0 409.8,88.2 410.1,87.7 410.4,87.1 410.7,87.0 411.0,88.1 411.3,88.4 411.5,87.9 411.8,88.6 412.1,88.7 412.4,88.8 412.7,89.6 412.9,89.6 413.2,89.7 413.5,89.3 413.8,88.9 414.1,88.9 414.4,88.5 414.6,90.2 414.9,90.4 415.2,89.8 415.5,89.9 415.8,89.5 416.0,89.5 416.3,88.5 416.6,89.3 416.9,89.8 417.2,89.1 417.5,90.0 417.7,89.7 418.0,88.9 418.3,89.4 418.6,89.7 418.9,88.1 419.2,87.9 419.4,90.1 419.7,90.4 420.0,89.7 420.3,89.5 420.6,89.4 420.8,89.7 421.1,89.4 421.4,89.2 421.7,90.0 422.0,90.1 422.3,89.7 422.5,89.0 422.8,88.6 423.1,89.1 423.4,89.3 423.7,89.1 424.0,88.2 424.2,88.6 424.5,89.3 424.8,88.7 425.1,89.3 425.4,89.5 425.6,89.0 425.9,89.3 426.2,88.7 426.5,87.1 426.8,86.2 427.1,87.4 427.3,88.8 427.6,88.0 427.9,88.6 428.2,89.6 428.5,88.7 428.7,88.7 429.0,88.8 429.3,88.8 429.6,88.8 429.9,88.3 430.2,88.7 430.4,89.2 430.7,89.1 431.0,89.4 431.3,89.4 431.6,89.7 431.9,89.4 432.1,88.1 432.4,87.7 432.7,87.9 433.0,89.1 433.3,89.0 433.5,88.9 433.8,89.5 434.1,88.4 434.4,88.9 434.7,89.3 435.0,88.7 435.2,89.2 435.5,89.7 435.8,89.4 436.1,89.2 436.4,89.0 436.7,88.2 436.9,89.3 437.2,90.0 437.5,89.6 437.8,89.9 438.1,90.2 438.3,89.7 438.6,89.3 438.9,90.0 439.2,90.2 439.5,89.2 439.8,89.5 440.0,90.2 440.3,88.9 440.6,88.0 440.9,89.4 441.2,90.5 441.4,89.7 441.7,89.6 442.0,89.9 442.3,89.5 442.6,88.8 442.9,88.7 443.1,89.3 443.4,89.4 443.7,88.9 444.0,88.8 444.3,90.1 444.6,89.8 444.8,88.7 445.1,89.0 445.4,89.5 445.7,89.2 446.0,88.5 446.2,88.7 446.5,89.0 446.8,89.0 447.1,89.4 447.4,89.8 447.7,89.5 447.9,89.3 448.2,89.5 448.5,89.0 448.8,88.6 449.1,88.7 449.4,89.6 449.6,89.7 449.9,89.3 450.2,89.9 450.5,90.0 450.8,89.1 451.0,88.4 451.3,89.2 451.6,90.1 451.9,89.8 452.2,89.5 452.5,88.7 452.7,89.2 453.0,90.7 453.3,90.2 453.6,89.4 453.9,89.2 454.1,88.9 454.4,88.0 454.7,88.5 455.0,89.7 455.3,90.3 455.6,89.9 455.8,88.8 456.1,89.0 456.4,88.9 456.7,88.8 457.0,88.6 457.3,88.5 457.5,89.6 457.8,90.0 458.1,90.2 458.4,90.7 458.7,89.9 458.9,88.4 459.2,86.7 459.5,86.4 459.8,88.0 460.1,89.4 460.4,89.3 460.6,88.7 460.9,89.4 461.2,89.3 461.5,88.7 461.8,89.9 462.1,89.8 462.3,88.9 462.6,89.4 462.9,89.6 463.2,88.7 463.5,87.9 463.7,87.8 464.0,89.0 464.3,90.1 464.6,89.2 464.9,89.4 465.2,90.1 465.4,90.4 465.7,89.3 466.0,88.0 466.3,88.6 466.6,89.0 466.8,89.4 467.1,89.7 467.4,89.2 467.7,89.4 468.0,89.1 468.3,89.0 468.5,89.9 468.8,89.1 469.1,88.8 469.4,89.1 469.7,89.3 470.0,90.5 470.2,90.1 470.5,89.7 470.8,89.4 471.1,89.5 471.4,90.8 471.6,90.0 471.9,89.0 472.2,89.1 472.5,89.8 472.8,89.5 473.1,89.6 473.3,90.2 473.6,89.9 473.9,89.8 474.2,89.1 474.5,89.2 474.8,89.4 475.0,88.7 475.3,89.3 475.6,89.2 475.9,88.0 476.2,88.4 476.4,89.0 476.7,90.0 477.0,89.9 477.3,88.7 477.6,89.1 477.9,90.0 478.1,89.9 478.4,89.6 478.7,89.3 479.0,89.1 479.3,89.1 479.5,89.2 479.8,88.9 480.1,89.7 480.4,90.8 480.7,89.6 481.0,89.8 481.2,89.7 481.5,89.6 481.8,89.8 482.1,89.7 482.4,89.9 482.7,89.5 482.9,89.3 483.2,89.6 483.5,88.6 483.8,88.4 484.1,89.8 484.3,89.4 484.6,88.6 484.9,88.5 485.2,88.0 485.5,89.0 485.8,89.3 486.0,88.4 486.3,88.9 486.6,89.3 486.9,90.6 487.2,90.9 487.5,88.8 487.7,89.4 488.0,90.4 488.3,89.5 488.6,89.0 488.9,88.4 489.1,89.4 489.4,90.1 489.7,89.0 490.0,89.6 490.3,90.0 490.6,88.6 490.8,88.0 491.1,88.6 491.4,90.2 491.7,90.1 492.0,87.9 492.2,87.3 492.5,88.2 492.8,87.6 493.1,88.1 493.4,89.9 493.7,89.7 493.9,89.4 494.2,89.7 494.5,89.6 494.8,89.1 495.1,88.9 495.4,89.8 495.6,90.0 495.9,89.2 496.2,89.4 496.5,89.1 496.8,88.5 497.0,89.5 497.3,89.7 497.6,88.4 497.9,87.8 498.2,88.7 498.5,89.0 498.7,89.3 499.0,90.3 499.3,89.8 499.6,89.0 499.9,89.1 500.2,89.2 500.4,89.3 500.7,89.5 501.0,89.4 501.3,88.8 501.6,89.1 501.8,89.1 502.1,89.8 502.4,90.5 502.7,89.1 503.0,88.0 503.3,88.5 503.5,89.3 503.8,90.0 504.1,89.8 504.4,88.9 504.7,89.7 504.9,89.8 505.2,88.9 505.5,89.0 505.8,89.7 506.1,89.7 506.4,89.8 506.6,89.4 506.9,88.7 507.2,89.9 507.5,89.3 507.8,88.3 508.1,88.8 508.3,87.4 508.6,86.9 508.9,88.3 509.2,88.3 509.5,89.8 509.7,90.0 510.0,89.0 510.3,89.5 510.6,89.9 510.9,89.7 511.2,89.8 511.4,90.3 511.7,90.0 512.0,90.2 512.3,89.3 512.6,89.3 512.9,90.3 513.1,89.9 513.4,89.6 513.7,89.1 514.0,88.7 514.3,89.2 514.5,89.7 514.8,89.6 515.1,89.1 515.4,88.8 515.7,89.4 516.0,90.6 516.2,89.4 516.5,88.1 516.8,88.9 517.1,89.2 517.4,89.5 517.6,90.1 517.9,90.0 518.2,89.7 518.5,89.8 518.8,90.3 519.1,90.2 519.3,89.3 519.6,89.4 519.9,89.6 520.2,90.3 520.5,90.4 520.8,89.6 521.0,90.0 521.3,90.7 521.6,90.0 521.9,89.6 522.2,89.6 522.4,89.4 522.7,89.4 523.0,89.3 523.3,90.3 523.6,90.1 523.9,89.6 524.1,89.2 524.4,88.9 524.7,88.4 525.0,87.2 525.3,87.2 525.6,88.2 525.8,88.6 526.1,88.8 526.4,88.9 526.7,88.7 527.0,88.9 527.2,89.3 527.5,89.4 527.8,88.4 528.1,88.4 528.4,89.6 528.7,89.7 528.9,89.6 529.2,89.4 529.5,89.9 529.8,90.8 530.1,90.2 530.3,90.0 530.6,90.1 530.9,89.3 531.2,88.9 531.5,88.2 531.8,88.6 532.0,89.6 532.3,90.2 532.6,90.3 532.9,89.8 533.2,90.4 533.5,90.3 533.7,89.4 534.0,89.2 534.3,89.3"/>
<polyline fill="none" stroke="#e01414" stroke-width="0.9" stroke-linejoin="round" points="26.3,68.6 26.6,72.8 26.9,75.6 27.1,78.5 27.4,79.1 27.7,80.1 28.0,81.5 28.3,81.1 28.6,82.1 28.8,82.2 29.1,81.6 29.4,82.6 29.7,82.3 30.0,81.6 30.3,82.1 30.5,82.6 30.8,82.0 31.1,81.5 31.4,82.0 31.7,82.9 31.9,83.4 32.2,83.4 32.5,82.6 32.8,82.0 33.1,82.3 33.4,81.9 33.6,82.2 33.9,83.2 34.2,83.3 34.5,82.1 34.8,83.0 35.0,83.9 35.3,82.7 35.6,82.8 35.9,81.9 36.2,81.4 36.5,82.2 36.7,83.3 37.0,83.5 37.3,83.3 37.6,83.5 37.9,83.3 38.2,83.6 38.4,83.4 38.7,82.3 39.0,82.2 39.3,82.9 39.6,84.5 39.8,84.0 40.1,82.5 40.4,83.2 40.7,84.0 41.0,83.6 41.3,83.8 41.5,83.8 41.8,83.9 42.1,84.9 42.4,84.3 42.7,84.6 43.0,84.6 43.2,83.6 43.5,84.3 43.8,84.2 44.1,83.8 44.4,84.0 44.6,83.6 44.9,84.2 45.2,84.6 45.5,85.2 45.8,85.3 46.1,84.9 46.3,83.7 46.6,82.8 46.9,84.4 47.2,84.5 47.5,83.7 47.7,84.3 48.0,84.2 48.3,83.6 48.6,84.2 48.9,84.8 49.2,84.4 49.4,84.8 49.7,84.8 50.0,84.3 50.3,84.8 50.6,85.2 50.9,84.7 51.1,83.8 51.4,83.9 51.7,84.8 52.0,84.6 52.3,84.0 52.5,84.1 52.8,83.6 53.1,84.4 53.4,85.1 53.7,85.0 54.0,85.4 54.2,84.0 54.5,83.1 54.8,85.1 55.1,85.4 55.4,84.8 55.7,84.4 55.9,84.1 56.2,84.8 56.5,84.8 56.8,84.5 57.1,84.6 57.3,84.9 57.6,85.0 57.9,84.7 58.2,85.2 58.5,85.5 58.8,85.0 59.0,85.2 59.3,84.8 59.6,85.2 59.9,85.8 60.2,85.6 60.4,85.2 60.7,85.0 61.0,85.3 61.3,84.8 61.6,85.7 61.9,85.7 62.1,85.3 62.4,85.6 62.7,85.3 63.0,84.8 63.3,84.4 63.6,83.9 63.8,84.2 64.1,85.4 64.4,85.7 64.7,85.2 65.0,84.1 65.2,84.3 65.5,85.4 65.8,85.4 66.1,85.0 66.4,85.2 66.7,85.7 66.9,87.0 67.2,86.9 67.5,85.1 67.8,84.7 68.1,86.4 68.4,86.5 68.6,86.4 68.9,85.4 69.2,84.3 69.5,86.0 69.8,85.7 70.0,85.5 70.3,85.6 70.6,85.2 70.9,86.1 71.2,85.8 71.5,85.9 71.7,85.6 72.0,84.9 72.3,86.1 72.6,87.1 72.9,85.7 73.1,84.1 73.4,85.5 73.7,85.5 74.0,84.7 74.3,85.7 74.6,85.8 74.8,85.9 75.1,85.1 75.4,84.9 75.7,86.6 76.0,85.6 76.3,84.2 76.5,85.9 76.8,86.5 77.1,86.4 77.4,86.2 77.7,85.6 77.9,85.5 78.2,86.0 78.5,86.6 78.8,85.8 79.1,85.5 79.4,84.8 79.6,85.2 79.9,85.9 80.2,85.5 80.5,86.3 80.8,85.6 81.1,85.2 81.3,86.3 81.6,86.6 81.9,85.6 82.2,86.1 82.5,85.9 82.7,85.0 83.0,85.8 83.3,85.5 83.6,84.4 83.9,84.8 84.2,85.7 84.4,85.0 84.7,84.4 85.0,85.8 85.3,86.7 85.6,86.3 85.8,86.4 86.1,87.1 86.4,86.4 86.7,85.6 87.0,86.1 87.3,85.4 87.5,85.7 87.8,86.5 88.1,86.1 88.4,86.3 88.7,86.5 89.0,85.9 89.2,85.8 89.5,85.6 89.8,85.9 90.1,86.5 90.4,86.9 90.6,87.1 90.9,86.7 91.2,85.9 91.5,85.2 91.8,85.7 92.1,85.1 92.3,84.6 92.6,85.2 92.9,86.3 93.2,87.4 93.5,87.1 93.8,86.6 94.0,86.9 94.3,86.9 94.6,87.4 94.9,86.5 95.2,86.2 95.4,87.3 95.7,86.5 96.0,87.0 96.3,86.8 96.6,85.5 96.9,86.1 97.1,87.2 97.4,87.3 97.7,87.7 98.0,86.7 98.3,85.7 98.5,86.8 98.8,87.3 99.1,86.6 99.4,85.4 99.7,86.4 100.0,87.5 100.2,87.7 100.5,87.1 100.8,86.1 101.1,85.3 101.4,85.5 101.7,86.9 101.9,87.2 102.2,86.5 102.5,87.0 102.8,87.1 103.1,86.1 103.3,86.8 103.6,87.4 103.9,86.6 104.2,85.1 104.5,85.9 104.8,86.6 105.0,85.5 105.3,86.1 105.6,87.1 105.9,87.4 106.2,87.4 106.5,86.8 106.7,87.0 107.0,87.3 107.3,87.9 107.6,88.2 107.9,87.9 108.1,86.9 108.4,86.7 108.7,87.5 109.0,86.9 109.3,86.1 109.6,86.9 109.8,87.5 110.1,86.8 110.4,86.3 110.7,87.0 111.0,87.1 111.2,86.7 111.5,86.3 111.8,86.7 112.1,86.8 112.4,86.2 112.7,87.2 112.9,86.9 113.2,85.9 113.5,87.1 113.8,86.6 114.1,86.5 114.4,88.0 114.6,87.6 114.9,86.7 115.2,86.1 115.5,86.3 115.8,85.8 116.0,85.7 116.3,85.9 116.6,84.8 116.9,85.5 117.2,88.3 117.5,88.6 117.7,87.9 118.0,87.6 118.3,87.0 118.6,87.7 118.9,88.3 119.2,87.8 119.4,87.4 119.7,88.6 120.0,88.0 120.3,86.6 120.6,87.1 120.8,87.0 121.1,87.5 121.4,87.7 121.7,86.7 122.0,86.1 122.3,86.4 122.5,87.1 122.8,87.8 123.1,87.0 123.4,86.3 123.7,87.2 123.9,88.6 124.2,88.9 124.5,88.8 124.8,87.6 125.1,86.5 125.4,87.6 125.6,87.9 125.9,86.1 126.2,85.3 126.5,87.4 126.8,88.1 127.1,88.1 127.3,88.9 127.6,88.2 127.9,86.0 128.2,85.3 128.5,86.5 128.7,87.6 129.0,87.5 129.3,86.8 129.6,87.7 129.9,89.2 130.2,87.4 130.4,86.3 130.7,86.5 131.0,86.5 131.3,86.5 131.6,86.8 131.9,86.9 132.1,85.4 132.4,85.4 132.7,87.0 133.0,87.3 133.3,87.4 133.5,88.7 133.8,88.0 134.1,86.5 134.4,86.4 134.7,87.8 135.0,87.8 135.2,86.8 135.5,87.5 135.8,89.2 136.1,88.4 136.4,86.6 136.6,86.9 136.9,88.3 137.2,89.4 137.5,87.9 137.8,86.7 138.1,87.0 138.3,87.6 138.6,87.6 138.9,87.8 139.2,88.2 139.5,88.4 139.8,88.1 140.0,87.8 140.3,87.5 140.6,86.8 140.9,87.8 141.2,87.2 141.4,87.4 141.7,88.2 142.0,87.0 142.3,86.5 142.6,88.3 142.9,88.5 143.1,86.6 143.4,86.4 143.7,88.3 144.0,89.4 144.3,88.3 144.6,88.2 144.8,87.4 145.1,87.5 145.4,87.6 145.7,86.9 146.0,88.4 146.2,89.2 146.5,88.7 146.8,88.1 147.1,87.3 147.4,87.5 147.7,87.5 147.9,88.0 148.2,89.4 148.5,88.3 148.8,86.9 149.1,87.6 149.3,88.7 149.6,88.3 149.9,86.7 150.2,87.0 150.5,88.5 150.8,88.9 151.0,87.4 151.3,87.0 151.6,87.7 151.9,87.1 152.2,86.8 152.5,88.0 152.7,88.1 153.0,87.1 153.3,87.4 153.6,87.3 153.9,87.9 154.1,88.5 154.4,88.4 154.7,88.0 155.0,88.1 155.3,88.3 155.6,88.5 155.8,88.8 156.1,88.4 156.4,88.4 156.7,88.2 157.0,88.2 157.3,88.4 157.5,89.4 157.8,88.7 158.1,87.9 158.4,88.7 158.7,88.8 158.9,88.1 159.2,88.2 159.5,88.5 159.8,87.3 160.1,86.7 160.4,86.7 160.6,87.3 160.9,88.6 161.2,88.2 161.5,86.9 161.8,87.2 162.0,87.4 162.3,87.8 162.6,88.5 162.9,88.0 163.2,87.0 163.5,88.2 163.7,88.4 164.0,87.6 164.3,87.3 164.6,86.4 164.9,85.6 165.2,85.8 165.4,86.9 165.7,88.6 166.0,88.7 166.3,87.9 166.6,89.0 166.8,88.6 167.1,88.8 167.4,88.7 167.7,87.0 168.0,87.8 168.3,88.2 168.5,87.7 168.8,87.8 169.1,88.8 169.4,88.8 169.7,88.0 170.0,88.0 170.2,88.1 170.5,87.9 170.8,87.7 171.1,88.0 171.4,87.4 171.6,87.6 171.9,87.9 172.2,87.8 172.5,88.1 172.8,88.5 173.1,88.4 173.3,87.4 173.6,87.9 173.9,88.1 174.2,87.9 174.5,88.9 174.7,89.0 175.0,87.6 175.3,88.1 175.6,89.8 175.9,89.4 176.2,88.8 176.4,87.9 176.7,87.6 177.0,88.6 177.3,88.9 177.6,88.8 177.9,88.8 178.1,89.4 178.4,89.1 178.7,89.1 179.0,88.4 179.3,88.6 179.5,89.3 179.8,89.1 180.1,89.8 180.4,88.4 180.7,88.4 181.0,87.3 181.2,86.2 181.5,87.7 181.8,86.9 182.1,88.5 182.4,90.6 182.7,88.7 182.9,87.9 183.2,88.9 183.5,89.0 183.8,89.3 184.1,89.2 184.3,87.9 184.6,88.1 184.9,88.9 185.2,88.0 185.5,87.1 185.8,88.0 186.0,88.9 186.3,88.9 186.6,89.4 186.9,89.3 187.2,89.3 187.4,90.1 187.7,90.8 188.0,90.3 188.3,89.1 188.6,88.1 188.9,88.5 189.1,89.2 189.4,88.6 189.7,88.1 190.0,88.5 190.3,88.9 190.6,87.9 190.8,88.0 191.1,89.3 191.4,90.0 191.7,89.5 192.0,88.8 192.2,88.0 192.5,88.1 192.8,88.6 193.1,88.0 193.4,87.5 193.7,88.7 193.9,88.8 194.2,88.1 194.5,89.0 194.8,89.2 195.1,89.3 195.4,89.3 195.6,90.4 195.9,89.9 196.2,88.7 196.5,89.4 196.8,89.4 197.0,87.2 197.3,85.5 197.6,86.0 197.9,86.3 198.2,87.9 198.5,89.4 198.7,89.4 199.0,89.4 199.3,88.8 199.6,88.3 199.9,89.1 200.1,89.5 200.4,89.1 200.7,89.2 201.0,89.3 201.3,89.5 201.6,89.8 201.8,89.4 202.1,89.6 202.4,89.4 202.7,89.0 203.0,89.7 203.3,89.9 203.5,89.7 203.8,89.5 204.1,89.1 204.4,89.2 204.7,89.7 204.9,88.8 205.2,87.9 205.5,88.6 205.8,88.6 206.1,88.5 206.4,89.1 206.6,89.3 206.9,87.7 207.2,87.2 207.5,88.1 207.8,88.8 208.1,89.1 208.3,87.7 208.6,87.8 208.9,88.4 209.2,88.0 209.5,88.2 209.7,88.1 210.0,88.3 210.3,88.9 210.6,89.3 210.9,88.2 211.2,87.7 211.4,89.0 211.7,88.5 212.0,88.8 212.3,89.5 212.6,89.7 212.8,89.7 213.1,89.4 213.4,88.5 213.7,86.7 214.0,86.2 214.3,87.4 214.5,88.8 214.8,89.5 215.1,89.1 215.4,88.5 215.7,88.9 216.0,89.9 216.2,89.7 216.5,89.8 216.8,89.9 217.1,89.2 217.4,89.6 217.6,90.1 217.9,90.2 218.2,88.7 218.5,88.4 218.8,89.6 219.1,89.0 219.3,88.7 219.6,88.6 219.9,89.5 220.2,90.6 220.5,88.2 220.8,87.7 221.0,89.6 221.3,89.5 221.6,88.8 221.9,89.5 222.2,89.9 222.4,89.3 222.7,89.1 223.0,89.0 223.3,89.7 223.6,90.2 223.9,91.2 224.1,90.2 224.4,89.7 224.7,90.5 225.0,88.8 225.3,88.8 225.5,89.4 225.8,89.3 226.1,89.3 226.4,89.1 226.7,89.8 227.0,89.1 227.2,89.0 227.5,90.4 227.8,90.4 228.1,89.4 228.4,89.9 228.7,89.7 228.9,88.7 229.2,88.0 229.5,88.7 229.8,88.7 230.1,87.4 230.3,86.7 230.6,87.1 230.9,88.5 231.2,89.3 231.5,89.7 231.8,90.0 232.0,90.2 232.3,89.7 232.6,89.2 232.9,89.0 233.2,88.8 233.5,88.5 233.7,90.0 234.0,90.9 234.3,90.0 234.6,90.1 234.9,89.4 235.1,88.7 235.4,89.3 235.7,89.7 236.0,88.9 236.3,89.2 236.6,90.0 236.8,89.4 237.1,89.0 237.4,88.7 237.7,88.8 238.0,89.1 238.2,89.6 238.5,90.5 238.8,90.2 239.1,91.1 239.4,90.9 239.7,89.0 239.9,89.2 240.2,89.8 240.5,89.3 240.8,89.2 241.1,89.3 241.4,88.1 241.6,88.2 241.9,88.9 242.2,89.0 242.5,89.4 242.8,89.5 243.0,89.6 243.3,89.2 243.6,90.1 243.9,90.8 244.2,89.6 244.5,89.9 244.7,90.3 245.0,90.2 245.3,90.0 245.6,89.1 245.9,88.5 246.2,87.9 246.4,87.0 246.7,85.7 247.0,86.4 247.3,87.9 247.6,90.1 247.8,90.8 248.1,90.6 248.4,90.4 248.7,89.3 249.0,89.4 249.3,89.2 249.5,89.2 249.8,90.0 250.1,90.0 250.4,89.1 250.7,89.3 250.9,89.9 251.2,90.5 251.5,89.9 251.8,89.6 252.1,90.6 252.4,90.5 252.6,90.6 252.9,90.5 253.2,89.4 253.5,88.9 253.8,88.8 254.1,88.4 254.3,89.6 254.6,90.2 254.9,88.9 255.2,88.0 255.5,89.5 255.7,91.5 256.0,90.5 256.3,89.9 256.6,90.7 256.9,90.3 257.2,90.2 257.4,91.6 257.7,91.2 258.0,90.0 258.3,89.6 258.6,89.2 258.9,89.4 259.1,90.1 259.4,90.5 259.7,91.2 260.0,91.1 260.3,89.8 260.5,89.2 260.8,88.6 261.1,89.1 261.4,91.1 261.7,90.6 262.0,89.1 262.2,90.0 262.5,90.5 262.8,87.5 263.1,84.7 263.4,87.0 263.6,89.8 263.9,90.5 264.2,91.1 264.5,91.4 264.8,90.7 265.1,90.2 265.3,90.7 265.6,91.8 265.9,90.6 266.2,89.7 266.5,90.7 266.8,90.8 267.0,90.5 267.3,90.7 267.6,90.9 267.9,90.2 268.2,89.8 268.4,90.3 268.7,91.1 269.0,90.6 269.3,89.2 269.6,89.9 269.9,90.8 270.1,90.4 270.4,90.4 270.7,89.7 271.0,89.8 271.3,90.0 271.6,89.9 271.8,90.4 272.1,90.6 272.4,91.2 272.7,91.3 273.0,90.8 273.2,90.8 273.5,90.0 273.8,89.7 274.1,89.8 274.4,89.4 274.7,90.9 274.9,91.3 275.2,90.1 275.5,90.3 275.8,91.0 276.1,90.7 276.3,89.4 276.6,89.1 276.9,89.8 277.2,90.0 277.5,89.5 277.8,88.9 278.0,88.7 278.3,89.6 278.6,90.0 278.9,89.1 279.2,86.5 279.5,85.1 279.7,86.5 280.0,89.2 280.3,91.0 280.6,90.6 280.9,90.5 281.1,90.8 281.4,91.6 281.7,91.0 282.0,89.9 282.3,90.4 282.6,90.2 282.8,90.0 283.1,90.6 283.4,89.7 283.7,89.6 284.0,90.1 284.3,88.9 284.5,89.8 284.8,90.7 285.1,90.8 285.4,90.3 285.7,90.0 285.9,91.2 286.2,90.3 286.5,89.3 286.8,90.4 287.1,90.3 287.4,89.7 287.6,88.9 287.9,88.1 288.2,89.8 288.5,90.9 288.8,91.0 289.0,90.8 289.3,90.4 289.6,90.0 289.9,90.0 290.2,91.2 290.5,91.7 290.7,90.2 291.0,89.1 291.3,90.0 291.6,90.6 291.9,90.6 292.2,90.6 292.4,91.4 292.7,90.9 293.0,90.4 293.3,90.8 293.6,91.7 293.8,91.7 294.1,89.7 294.4,91.0 294.7,90.9 295.0,89.3 295.3,89.4 295.5,87.8 295.8,84.9 296.1,85.9 296.4,88.9 296.7,90.2 297.0,91.1 297.2,90.5 297.5,90.6 297.8,90.6 298.1,91.0 298.4,91.9 298.6,91.8 298.9,90.6 299.2,90.8 299.5,92.1 299.8,90.8 300.1,90.1 300.3,89.3 300.6,88.5 300.9,89.3 301.2,89.9 301.5,91.2 301.7,92.0 302.0,91.2 302.3,90.9 302.6,91.4 302.9,91.8 303.2,91.6 303.4,90.5 303.7,89.9 304.0,90.6 304.3,91.0 304.6,90.6 304.9,90.9 305.1,91.2 305.4,91.7 305.7,91.2 306.0,89.8 306.3,90.0 306.5,90.2 306.8,90.2 307.1,89.4 307.4,89.5 307.7,91.3 308.0,91.9 308.2,90.9 308.5,89.8 308.8,89.7 309.1,89.9 309.4,90.2 309.7,91.4 309.9,91.8 310.2,92.0 310.5,91.8 310.8,91.6 311.1,91.4 311.3,90.6 311.6,90.6 311.9,87.4 312.2,84.1 312.5,87.1 312.8,90.1 313.0,90.1 313.3,90.5 313.6,90.4 313.9,90.2 314.2,90.1 314.4,90.1 314.7,90.7 315.0,90.5 315.3,90.1 315.6,90.2 315.9,90.8 316.1,91.4 316.4,91.3 316.7,91.2 317.0,90.9 317.3,90.5 317.6,90.7 317.8,90.8 318.1,90.7 318.4,89.8 318.7,89.3 319.0,90.4 319.2,90.8 319.5,90.7 319.8,91.0 320.1,90.9 320.4,91.2 320.7,91.8 320.9,92.8 321.2,92.0 321.5,90.0 321.8,90.6 322.1,91.0 322.4,90.7 322.6,90.8 322.9,91.1 323.2,91.3 323.5,91.0 323.8,92.1 324.0,91.9 324.3,90.7 324.6,92.2 324.9,91.8 325.2,90.5 325.5,90.7 325.7,90.5 326.0,90.8 326.3,91.6 326.6,91.6 326.9,91.3 327.1,89.9 327.4,88.7 327.7,89.9 328.0,90.1 328.3,86.9 328.6,84.5 328.8,86.9 329.1,90.5 329.4,90.2 329.7,89.2 330.0,91.1 330.3,92.6 330.5,92.2 330.8,91.1 331.1,90.4 331.4,90.7 331.7,91.9 331.9,91.6 332.2,90.4 332.5,90.5 332.8,91.1 333.1,90.8 333.4,90.6 333.6,91.5 333.9,91.4 334.2,91.5 334.5,91.0 334.8,90.1 335.1,91.1 335.3,91.3 335.6,90.1 335.9,91.3 336.2,92.1 336.5,90.1 336.7,90.8 337.0,91.8 337.3,91.7 337.6,91.7 337.9,92.2 338.2,93.0 338.4,92.0 338.7,91.1 339.0,90.6 339.3,90.4 339.6,90.0 339.8,89.9 340.1,90.1 340.4,91.0 340.7,91.5 341.0,89.3 341.3,88.0 341.5,89.2 341.8,90.0 342.1,90.0 342.4,90.6 342.7,90.1 343.0,90.0 343.2,91.1 343.5,89.8 343.8,90.8 344.1,91.6 344.4,90.4 344.6,88.2 344.9,85.5 345.2,87.2 345.5,89.8 345.8,91.0 346.1,91.4 346.3,91.6 346.6,91.7 346.9,91.9 347.2,91.3 347.5,91.3 347.8,91.2 348.0,90.8 348.3,91.3 348.6,90.4 348.9,90.2 349.2,91.9 349.4,91.7 349.7,92.2 350.0,92.3 350.3,91.0 350.6,91.9 350.9,91.6 351.1,91.0 351.4,90.0 351.7,90.1 352.0,90.1 352.3,89.1 352.5,90.5 352.8,91.7 353.1,90.7 353.4,90.3 353.7,90.9 354.0,91.0 354.2,91.7 354.5,91.8 354.8,91.7 355.1,92.3 355.4,91.9 355.7,90.1 355.9,89.1 356.2,90.1 356.5,90.9 356.8,90.6 357.1,89.9 357.3,90.0 357.6,91.0 357.9,91.4 358.2,90.6 358.5,88.9 358.8,89.9 359.0,92.4 359.3,91.6 359.6,90.6 359.9,90.9 360.2,90.2 360.5,90.1 360.7,90.4 361.0,88.8 361.3,86.2 361.6,87.7 361.9,90.2 362.1,91.3 362.4,91.8 362.7,92.0 363.0,92.0 363.3,91.4 363.6,90.9 363.8,89.9 364.1,90.4 364.4,91.6 364.7,90.4 365.0,89.7 365.2,90.5 365.5,90.3 365.8,89.9 366.1,89.6 366.4,90.1 366.7,90.2 366.9,91.0 367.2,91.8 367.5,91.4 367.8,91.0 368.1,90.9 368.4,90.8 368.6,90.8 368.9,91.2 369.2,92.1 369.5,91.4 369.8,90.2 370.0,91.2 370.3,91.2 370.6,90.5 370.9,90.8 371.2,92.0 371.5,92.7 371.7,92.0 372.0,90.5 372.3,90.6 372.6,91.7 372.9,91.8 373.2,91.9 373.4,91.1 373.7,92.0 374.0,93.7 374.3,92.2 374.6,90.6 374.8,91.3 375.1,90.8 375.4,90.0 375.7,91.6 376.0,92.3 376.3,90.5 376.5,90.8 376.8,91.4 377.1,89.5 377.4,86.7 377.7,86.0 377.9,88.1 378.2,90.9 378.5,91.3 378.8,91.7 379.1,91.4 379.4,91.4 379.6,91.9 379.9,91.8 380.2,92.0 380.5,90.7 380.8,89.9 381.1,89.7 381.3,90.4 381.6,91.0 381.9,90.9 382.2,90.6 382.5,90.9 382.7,90.7 383.0,90.3 383.3,90.3 383.6,90.2 383.9,90.4 384.2,91.1 384.4,91.7 384.7,92.0 385.0,91.9 385.3,91.3 385.6,90.7 385.9,91.3 386.1,90.0 386.4,89.4 386.7,90.5 387.0,89.8 387.3,91.9 387.5,92.6 387.8,90.4 388.1,91.6 388.4,92.0 388.7,91.2 389.0,91.8 389.2,91.2 389.5,92.0 389.8,92.0 390.1,91.3 390.4,91.8 390.6,91.1 390.9,88.8 391.2,89.0 391.5,90.6 391.8,90.8 392.1,91.5 392.3,91.3 392.6,90.1 392.9,90.2 393.2,90.3 393.5,89.5 393.8,85.9 394.0,84.8 394.3,87.7 394.6,89.3 394.9,90.5 395.2,91.6 395.4,92.3 395.7,91.9 396.0,91.2 396.3,91.7 396.6,92.4 396.9,91.4 397.1,90.3 397.4,90.9 397.7,91.8 398.0,91.9 398.3,90.2 398.6,89.5 398.8,90.9 399.1,90.6 399.4,89.3 399.7,89.2 400.0,91.3 400.2,92.0 400.5,91.4 400.8,91.5 401.1,92.0 401.4,92.0 401.7,91.9 401.9,91.6 402.2,90.9 402.5,91.9 402.8,92.9 403.1,92.3 403.3,91.1 403.6,90.5 403.9,90.9 404.2,93.0 404.5,93.2 404.8,91.8 405.0,91.7 405.3,92.0 405.6,92.1 405.9,91.8 406.2,90.0 406.5,89.3 406.7,90.9 407.0,91.3 407.3,91.3 407.6,91.1 407.9,91.3 408.1,91.4 408.4,90.6 408.7,90.2 409.0,90.5 409.3,90.3 409.6,90.2 409.8,90.4 410.1,88.7 410.4,86.7 410.7,87.7 411.0,89.8 411.3,90.2 411.5,90.9 411.8,91.9 412.1,91.2 412.4,90.1 412.7,90.8 412.9,91.3 413.2,90.3 413.5,90.3 413.8,91.0 414.1,92.4 414.4,91.6 414.6,90.1 414.9,90.8 415.2,91.4 415.5,92.1 415.8,91.9 416.0,91.3 416.3,90.7 416.6,91.3 416.9,91.1 417.2,90.4 417.5,90.5 417.7,91.1 418.0,91.5 418.3,90.4 418.6,90.5 418.9,92.0 419.2,92.2 419.4,91.1 419.7,91.7 420.0,92.8 420.3,91.9 420.6,91.6 420.8,91.4 421.1,91.5 421.4,92.9 421.7,92.6 422.0,90.8 422.3,90.9 422.5,91.7 422.8,91.1 423.1,91.6 423.4,91.1 423.7,90.5 424.0,90.9 424.2,91.9 424.5,93.1 424.8,93.7 425.1,92.8 425.4,91.5 425.6,91.0 425.9,89.9 426.2,89.3 426.5,87.6 426.8,85.3 427.1,86.2 427.3,89.6 427.6,91.2 427.9,91.0 428.2,91.6 428.5,91.0 428.7,91.2 429.0,92.3 429.3,91.5 429.6,90.9 429.9,91.4 430.2,91.5 430.4,91.1 430.7,91.2 431.0,91.0 431.3,90.6 431.6,90.2 431.9,89.8 432.1,90.1 432.4,90.9 432.7,91.3 433.0,91.5 433.3,90.0 433.5,89.8 433.8,91.1 434.1,90.2 434.4,91.3 434.7,92.5 435.0,91.9 435.2,92.0 435.5,92.5 435.8,92.2 436.1,90.8 436.4,90.2 436.7,90.9 436.9,91.2 437.2,92.2 437.5,91.8 437.8,90.7 438.1,91.6 438.3,91.7 438.6,91.3 438.9,91.7 439.2,92.1 439.5,92.2 439.8,92.2 440.0,91.5 440.3,90.8 440.6,90.9 440.9,91.2 441.2,91.6 441.4,90.4 441.7,91.2 442.0,91.6 442.3,90.3 442.6,89.8 442.9,87.6 443.1,85.9 443.4,88.1 443.7,91.5 444.0,91.9 444.3,92.2 444.6,91.7 444.8,90.2 445.1,92.6 445.4,94.0 445.7,92.0 446.0,91.0 446.2,91.1 446.5,91.0 446.8,90.7 447.1,90.4 447.4,89.8 447.7,90.3 447.9,90.8 448.2,91.7 448.5,92.3 448.8,92.0 449.1,91.2 449.4,89.3 449.6,89.7 449.9,91.7 450.2,92.1 450.5,91.4 450.8,91.2 451.0,90.6 451.3,90.2 451.6,92.2 451.9,92.0 452.2,90.8 452.5,91.9 452.7,90.8 453.0,90.7 453.3,92.2 453.6,92.8 453.9,92.0 454.1,90.8 454.4,90.0 454.7,90.6 455.0,91.7 455.3,90.7 455.6,90.7 455.8,90.8 456.1,90.4 456.4,91.1 456.7,91.3 457.0,91.3 457.3,91.4 457.5,92.0 457.8,91.8 458.1,91.8 458.4,91.5 458.7,90.9 458.9,90.2 459.2,87.6 459.5,85.7 459.8,86.6 460.1,89.2 460.4,91.5 460.6,91.8 460.9,91.1 461.2,91.1 461.5,91.5 461.8,91.6 462.1,91.4 462.3,91.0 462.6,90.9 462.9,92.0 463.2,92.8 463.5,93.4 463.7,92.3 464.0,90.3 464.3,90.0 464.6,90.6 464.9,90.6 465.2,90.7 465.4,91.4 465.7,92.3 466.0,92.6 466.3,92.1 466.6,91.2 466.8,90.0 467.1,90.7 467.4,91.4 467.7,91.0 468.0,91.6 468.3,92.7 468.5,92.7 468.8,92.6 469.1,92.3 469.4,91.6 469.7,91.5 470.0,91.6 470.2,91.2 470.5,91.6 470.8,91.4 471.1,91.8 471.4,92.3 471.6,91.1 471.9,91.6 472.2,92.7 472.5,91.9 472.8,91.4 473.1,91.3 473.3,90.5 473.6,91.0 473.9,91.4 474.2,90.8 474.5,89.8 474.8,88.6 475.0,86.8 475.3,86.7 475.6,86.2 475.9,85.3 476.2,87.4 476.4,90.3 476.7,91.8 477.0,92.7 477.3,91.6 477.6,91.1 477.9,91.6 478.1,92.1 478.4,92.1 478.7,91.8 479.0,90.2 479.3,90.3 479.5,92.5 479.8,91.4 480.1,90.3 480.4,91.9 480.7,92.4 481.0,90.8 481.2,91.6 481.5,91.7 481.8,91.3 482.1,92.2 482.4,92.1 482.7,91.9 482.9,92.4 483.2,91.0 483.5,90.5 483.8,92.1 484.1,91.4 484.3,91.0 484.6,90.7 484.9,90.8 485.2,91.4 485.5,91.2 485.8,91.3 486.0,91.4 486.3,91.6 486.6,90.6 486.9,90.9 487.2,92.1 487.5,91.9 487.7,91.3 488.0,90.9 488.3,90.7 488.6,91.7 488.9,92.0 489.1,91.4 489.4,91.7 489.7,91.5 490.0,92.4 490.3,92.4 490.6,91.2 490.8,92.1 491.1,92.3 491.4,90.5 491.7,89.6 492.0,87.4 492.2,85.4 492.5,88.1 492.8,91.2 493.1,92.0 493.4,90.9 493.7,90.3 493.9,91.4 494.2,91.3 494.5,91.0 494.8,91.9 495.1,91.6 495.4,91.7 495.6,92.8 495.9,91.6 496.2,91.7 496.5,92.2 496.8,92.0 497.0,92.3 497.3,91.6 497.6,91.8 497.9,92.9 498.2,92.7 498.5,91.5 498.7,92.0 499.0,92.0 499.3,91.0 499.6,91.3 499.9,91.7 500.2,91.9 500.4,91.9 500.7,90.9 501.0,89.8 501.3,89.6 501.6,90.7 501.8,90.5 502.1,91.2 502.4,91.4 502.7,91.2 503.0,92.1 503.3,91.2 503.5,90.8 503.8,90.6 504.1,91.5 504.4,92.1 504.7,91.6 504.9,91.9 505.2,92.7 505.5,92.0 505.8,90.9 506.1,91.9 506.4,92.7 506.6,92.7 506.9,91.2 507.2,90.8 507.5,91.7 507.8,91.2 508.1,90.0 508.3,87.4 508.6,85.1 508.9,87.0 509.2,89.6 509.5,91.5 509.7,92.1 510.0,91.6 510.3,91.6 510.6,91.4 510.9,91.8 511.2,92.0 511.4,91.2 511.7,91.3 512.0,92.4 512.3,91.8 512.6,90.6 512.9,91.1 513.1,91.6 513.4,91.9 513.7,92.0 514.0,91.0 514.3,90.5 514.5,91.0 514.8,91.6 515.1,92.5 515.4,92.2 515.7,91.1 516.0,90.7 516.2,89.8 516.5,90.2 516.8,90.8 517.1,91.6 517.4,91.4 517.6,90.4 517.9,90.3 518.2,90.4 518.5,90.9 518.8,90.5 519.1,91.1 519.3,91.5 519.6,90.6 519.9,91.3 520.2,92.5 520.5,91.9 520.8,91.2 521.0,91.1 521.3,90.8 521.6,91.6 521.9,91.7 522.2,90.7 522.4,91.1 522.7,91.8 523.0,92.2 523.3,91.7 523.6,90.0 523.9,91.2 524.1,91.5 524.4,88.0 524.7,81.9 525.0,77.7 525.3,82.9 525.6,89.8 525.8,91.5 526.1,91.0 526.4,91.1 526.7,91.0 527.0,90.9 527.2,92.0 527.5,91.4 527.8,90.1 528.1,91.3 528.4,90.9 528.7,90.3 528.9,91.2 529.2,90.4 529.5,91.8 529.8,93.7 530.1,92.0 530.3,91.3 530.6,92.1 530.9,91.2 531.2,90.4 531.5,91.9 531.8,92.5 532.0,91.4 532.3,90.1 532.6,91.6 532.9,92.4 533.2,91.6 533.5,92.6 533.7,92.5 534.0,92.5 534.3,92.6"/>
<path d="M26.3,6.3H534.3V93.6H26.3Z" fill="none" stroke="#666" stroke-width="0.9"/>
<path d="M23.8,93.60H26.3" stroke="#666" stroke-width="0.8"/>
<text x="21.8" y="96.90" text-anchor="end" class="tk">0</text>
<path d="M23.8,69.35H26.3" stroke="#666" stroke-width="0.8"/>
<text x="21.8" y="72.65" text-anchor="end" class="tk">1</text>
<path d="M23.8,45.10H26.3" stroke="#666" stroke-width="0.8"/>
<text x="21.8" y="48.40" text-anchor="end" class="tk">2</text>
<path d="M23.8,20.85H26.3" stroke="#666" stroke-width="0.8"/>
<text x="21.8" y="24.15" text-anchor="end" class="tk">3</text>
<path d="M82.74,93.6V96.1" stroke="#666" stroke-width="0.8"/>
<text x="82.74" y="107.0" text-anchor="middle" class="tk">200</text>
<path d="M139.19,93.6V96.1" stroke="#666" stroke-width="0.8"/>
<text x="139.19" y="107.0" text-anchor="middle" class="tk">400</text>
<path d="M195.63,93.6V96.1" stroke="#666" stroke-width="0.8"/>
<text x="195.63" y="107.0" text-anchor="middle" class="tk">600</text>
<path d="M252.08,93.6V96.1" stroke="#666" stroke-width="0.8"/>
<text x="252.08" y="107.0" text-anchor="middle" class="tk">800</text>
<path d="M308.52,93.6V96.1" stroke="#666" stroke-width="0.8"/>
<text x="308.52" y="107.0" text-anchor="middle" class="tk">1000</text>
<path d="M364.97,93.6V96.1" stroke="#666" stroke-width="0.8"/>
<text x="364.97" y="107.0" text-anchor="middle" class="tk">1200</text>
<path d="M421.41,93.6V96.1" stroke="#666" stroke-width="0.8"/>
<text x="421.41" y="107.0" text-anchor="middle" class="tk">1400</text>
<path d="M477.86,93.6V96.1" stroke="#666" stroke-width="0.8"/>
<text x="477.86" y="107.0" text-anchor="middle" class="tk">1600</text>
<path d="M534.30,93.6V96.1" stroke="#666" stroke-width="0.8"/>
<text x="534.30" y="107.0" text-anchor="middle" class="tk">1800</text>
<text x="279.7" y="115.8" text-anchor="middle" class="lb">Training Iteration</text>
<text transform="translate(13.0,52.75) rotate(-90)" text-anchor="middle" class="lb">Total Loss</text>
<text x="273.5" y="134.5" text-anchor="middle" class="cap">(<tspan font-weight="bold">a</tspan>)</text>
<rect x="344.5" y="15.6" width="157.1" height="30.6" fill="#fff" stroke="#444" stroke-width="0.8"/>
<path d="M349,24.4H367.5" stroke="#e01414" stroke-width="2"/>
<text x="371" y="27.6" class="lg">ASOPCNN</text>
<path d="M349,36.7H367.5" stroke="#ee7a3c" stroke-width="2"/>
<text x="371" y="39.9" class="lg">MEACNN</text>
<path d="M429,24.4H446.4" stroke="#1414e0" stroke-width="2"/>
<text x="450.7" y="27.6" class="lg">MAXCNN</text>
<path d="M429,36.7H446.4" stroke="#22e022" stroke-width="2"/>
<text x="450.7" y="39.9" class="lg">STOCNN</text>
<polyline fill="none" stroke="#ee8850" stroke-width="0.8" stroke-linejoin="round" points="23.5,147.7 26.4,157.2 29.3,164.5 32.1,170.5 35.0,175.4 37.9,179.5 40.8,182.6 43.7,185.4 46.6,187.9 49.4,190.1 52.3,192.1 55.2,194.0 58.1,195.2 61.0,196.2 63.8,197.2 66.7,198.0 69.6,198.9 72.5,199.7 75.4,200.4 78.2,201.0 81.1,201.5 84.0,202.0 86.9,202.5 89.8,202.9 92.7,203.3 95.5,203.7 98.4,204.1 101.3,204.5 104.2,204.9 107.1,205.2 109.9,205.6 112.8,205.9 115.7,206.2 118.6,206.5 121.5,206.8 124.4,207.1 127.2,207.3 130.1,207.6 133.0,207.9 135.9,208.1 138.8,208.3 141.6,208.5 144.5,208.7 147.4,208.9 150.3,209.1 153.2,209.2 156.1,209.4 158.9,209.6 161.8,209.8 164.7,210.0 167.6,210.2 170.5,210.4 173.3,210.6 176.2,210.8 179.1,211.0 182.0,211.1 184.9,211.3 187.7,211.5 190.6,211.7 193.5,211.8 196.4,212.0 199.3,212.2 202.2,212.3 205.0,212.5 207.9,212.6 210.8,212.8 213.7,212.9 216.6,213.1 219.4,213.2 222.3,213.4 225.2,213.5 228.1,213.7 231.0,213.8 233.9,213.9 236.7,214.1 239.6,214.2 242.5,214.3 245.4,214.5 248.3,214.6 251.1,214.7 254.0,214.8 256.9,215.0 259.8,215.1 262.7,215.2 265.6,215.3 268.4,215.5 271.3,215.6 274.2,215.7 277.1,215.8 280.0,215.9 282.8,216.0 285.7,216.2 288.6,216.3 291.5,216.4 294.4,216.5 297.2,216.6 300.1,216.7 303.0,216.8 305.9,216.9 308.8,217.0 311.7,217.1 314.5,217.2 317.4,217.3 320.3,217.4 323.2,217.5 326.1,217.6 328.9,217.7 331.8,217.8 334.7,217.9 337.6,218.0 340.5,218.1 343.4,218.2 346.2,218.3 349.1,218.4 352.0,218.4 354.9,218.5 357.8,218.6 360.6,218.6 363.5,218.7 366.4,218.7 369.3,218.8 372.2,218.9 375.1,218.9 377.9,219.0 380.8,219.0 383.7,219.1 386.6,219.1 389.5,219.2 392.3,219.3 395.2,219.3 398.1,219.4 401.0,219.4 403.9,219.5 406.7,219.5 409.6,219.6 412.5,219.6 415.4,219.7 418.3,219.7 421.2,219.8 424.0,219.8 426.9,219.9 429.8,220.0 432.7,220.0 435.6,220.1 438.4,220.1 441.3,220.2 444.2,220.3 447.1,220.3 450.0,220.4 452.9,220.4 455.7,220.5 458.6,220.6 461.5,220.6 464.4,220.7 467.3,220.7 470.1,220.8 473.0,220.8 475.9,220.9 478.8,221.0 481.7,221.0 484.6,221.1 487.4,221.1 490.3,221.2 493.2,221.2 496.1,221.3 499.0,221.3 501.8,221.4 504.7,221.4 507.6,221.5 510.5,221.5 513.4,221.6 516.2,221.6 519.1,221.7 522.0,221.7 524.9,221.8 527.8,221.8 530.7,221.9 533.5,221.9 536.4,222.0 539.3,222.0"/>
<polyline fill="none" stroke="#2a2ad8" stroke-width="0.8" stroke-linejoin="round" points="23.5,215.7 26.4,216.3 29.3,216.8 32.1,217.1 35.0,217.3 37.9,217.6 40.8,217.8 43.7,217.9 46.6,218.1 49.4,218.2 52.3,218.4 55.2,218.5 58.1,218.7 61.0,218.8 63.8,218.9 66.7,219.0 69.6,219.1 72.5,219.2 75.4,219.3 78.2,219.4 81.1,219.5 84.0,219.6 86.9,219.7 89.8,219.7 92.7,219.8 95.5,219.9 98.4,219.9 101.3,220.0 104.2,220.1 107.1,220.1 109.9,220.2 112.8,220.3 115.7,220.3 118.6,220.4 121.5,220.4 124.4,220.5 127.2,220.6 130.1,220.6 133.0,220.7 135.9,220.7 138.8,220.8 141.6,220.8 144.5,220.9 147.4,220.9 150.3,220.9 153.2,221.0 156.1,221.0 158.9,221.1 161.8,221.1 164.7,221.2 167.6,221.2 170.5,221.2 173.3,221.3 176.2,221.3 179.1,221.3 182.0,221.4 184.9,221.4 187.7,221.4 190.6,221.5 193.5,221.5 196.4,221.5 199.3,221.6 202.2,221.6 205.0,221.6 207.9,221.7 210.8,221.7 213.7,221.7 216.6,221.8 219.4,221.8 222.3,221.8 225.2,221.8 228.1,221.9 231.0,221.9 233.9,221.9 236.7,221.9 239.6,222.0 242.5,222.0 245.4,222.0 248.3,222.0 251.1,222.1 254.0,222.1 256.9,222.1 259.8,222.1 262.7,222.2 265.6,222.2 268.4,222.2 271.3,222.2 274.2,222.3 277.1,222.3 280.0,222.3 282.8,222.3 285.7,222.3 288.6,222.4 291.5,222.4 294.4,222.4 297.2,222.4 300.1,222.4 303.0,222.5 305.9,222.5 308.8,222.5 311.7,222.5 314.5,222.5 317.4,222.6 320.3,222.6 323.2,222.6 326.1,222.6 328.9,222.6 331.8,222.7 334.7,222.7 337.6,222.7 340.5,222.7 343.4,222.7 346.2,222.7 349.1,222.8 352.0,222.8 354.9,222.8 357.8,222.9 360.6,222.9 363.5,222.9 366.4,223.0 369.3,223.0 372.2,223.0 375.1,223.1 377.9,223.1 380.8,223.1 383.7,223.2 386.6,223.2 389.5,223.2 392.3,223.2 395.2,223.3 398.1,223.3 401.0,223.3 403.9,223.4 406.7,223.4 409.6,223.4 412.5,223.4 415.4,223.5 418.3,223.5 421.2,223.5 424.0,223.6 426.9,223.6 429.8,223.6 432.7,223.6 435.6,223.7 438.4,223.7 441.3,223.7 444.2,223.7 447.1,223.8 450.0,223.8 452.9,223.8 455.7,223.8 458.6,223.9 461.5,223.9 464.4,223.9 467.3,223.9 470.1,224.0 473.0,224.0 475.9,224.0 478.8,224.0 481.7,224.1 484.6,224.1 487.4,224.1 490.3,224.1 493.2,224.2 496.1,224.2 499.0,224.2 501.8,224.2 504.7,224.3 507.6,224.3 510.5,224.3 513.4,224.3 516.2,224.3 519.1,224.4 522.0,224.4 524.9,224.4 527.8,224.4 530.7,224.5 533.5,224.5 536.4,224.5 539.3,224.5"/>
<polyline fill="none" stroke="#2fe02f" stroke-width="0.8" stroke-linejoin="round" points="23.5,198.7 26.4,202.7 29.3,205.3 32.1,207.8 35.0,209.8 37.9,211.3 40.8,213.0 43.7,213.9 46.6,214.6 49.4,215.8 52.3,216.6 55.2,216.9 58.1,217.3 61.0,218.2 63.8,218.6 66.7,218.7 69.6,219.1 72.5,219.7 75.4,219.7 78.2,220.0 81.1,220.3 84.0,219.8 86.9,220.3 89.8,220.5 92.7,220.6 95.5,220.3 98.4,220.8 101.3,221.3 104.2,221.2 107.1,221.4 109.9,221.6 112.8,221.6 115.7,221.7 118.6,221.8 121.5,222.0 124.4,221.8 127.2,222.4 130.1,218.4 133.0,222.2 135.9,222.3 138.8,222.9 141.6,222.1 144.5,222.9 147.4,222.8 150.3,222.6 153.2,222.9 156.1,222.9 158.9,223.4 161.8,223.1 164.7,223.0 167.6,222.9 170.5,223.2 173.3,223.2 176.2,223.2 179.1,223.5 182.0,223.5 184.9,223.0 187.7,223.7 190.6,223.3 193.5,223.6 196.4,223.3 199.3,223.8 202.2,223.6 205.0,223.7 207.9,223.9 210.8,223.8 213.7,224.1 216.6,224.0 219.4,224.1 222.3,223.9 225.2,224.2 228.1,224.5 231.0,224.3 233.9,224.3 236.7,224.5 239.6,224.1 242.5,224.3 245.4,220.2 248.3,224.6 251.1,224.6 254.0,224.3 256.9,224.9 259.8,224.5 262.7,222.2 265.6,224.8 268.4,224.7 271.3,225.0 274.2,224.7 277.1,225.1 280.0,222.9 282.8,224.6 285.7,225.1 288.6,225.4 291.5,224.8 294.4,225.2 297.2,225.8 300.1,225.1 303.0,224.9 305.9,225.1 308.8,224.8 311.7,225.2 314.5,221.5 317.4,225.5 320.3,225.2 323.2,225.0 326.1,225.2 328.9,225.3 331.8,223.0 334.7,225.5 337.6,225.7 340.5,225.3 343.4,225.6 346.2,225.4 349.1,225.8 352.0,225.2 354.9,221.0 357.8,225.6 360.6,225.1 363.5,225.6 366.4,225.9 369.3,225.6 372.2,225.5 375.1,225.6 377.9,226.2 380.8,225.8 383.7,226.3 386.6,225.5 389.5,221.9 392.3,226.0 395.2,225.8 398.1,225.9 401.0,226.2 403.9,225.7 406.7,220.9 409.6,226.4 412.5,225.8 415.4,225.8 418.3,225.9 421.2,226.0 424.0,223.2 426.9,226.0 429.8,225.8 432.7,226.1 435.6,225.9 438.4,226.5 441.3,226.1 444.2,226.1 447.1,226.7 450.0,226.7 452.9,226.6 455.7,226.4 458.6,226.4 461.5,226.5 464.4,226.5 467.3,226.5 470.1,226.5 473.0,226.4 475.9,226.5 478.8,226.6 481.7,226.6 484.6,226.7 487.4,226.5 490.3,226.8 493.2,226.3 496.1,226.7 499.0,226.7 501.8,226.9 504.7,226.8 507.6,226.8 510.5,226.8 513.4,227.0 516.2,227.1 519.1,226.9 522.0,226.9 524.9,226.8 527.8,226.7 530.7,223.8 533.5,227.4 536.4,227.0 539.3,227.4"/>
<polyline fill="none" stroke="#e01414" stroke-width="0.85" stroke-linejoin="round" points="23.5,219.0 26.4,219.0 29.3,219.6 32.1,220.2 35.0,220.5 37.9,220.6 40.8,221.2 43.7,220.9 46.6,221.2 49.4,220.9 52.3,221.7 55.2,221.3 58.1,221.9 61.0,221.6 63.8,222.2 66.7,220.4 69.6,222.2 72.5,222.4 75.4,222.3 78.2,222.3 81.1,222.4 84.0,222.2 86.9,222.4 89.8,223.3 92.7,222.8 95.5,223.3 98.4,223.0 101.3,222.8 104.2,223.3 107.1,223.3 109.9,223.1 112.8,221.5 115.7,222.9 118.6,223.3 121.5,223.4 124.4,223.2 127.2,223.8 130.1,217.1 133.0,224.0 135.9,223.8 138.8,223.7 141.6,223.7 144.5,224.1 147.4,221.7 150.3,224.4 153.2,224.6 156.1,224.3 158.9,224.1 161.8,225.0 164.7,222.8 167.6,224.3 170.5,225.0 173.3,224.7 176.2,225.1 179.1,224.7 182.0,224.8 184.9,225.0 187.7,224.9 190.6,225.2 193.5,225.1 196.4,224.9 199.3,225.1 202.2,225.6 205.0,225.7 207.9,225.6 210.8,225.7 213.7,225.7 216.6,225.9 219.4,225.7 222.3,224.4 225.2,225.8 228.1,224.2 231.0,225.9 233.9,226.4 236.7,225.8 239.6,226.1 242.5,226.1 245.4,218.8 248.3,226.1 251.1,226.2 254.0,226.4 256.9,226.5 259.8,226.9 262.7,222.1 265.6,226.7 268.4,226.7 271.3,226.1 274.2,227.2 277.1,226.7 280.0,222.4 282.8,226.6 285.7,226.6 288.6,227.2 291.5,227.2 294.4,226.8 297.2,227.1 300.1,226.6 303.0,227.0 305.9,227.1 308.8,227.0 311.7,227.2 314.5,220.6 317.4,227.4 320.3,227.3 323.2,227.4 326.1,227.3 328.9,227.7 331.8,222.6 334.7,227.3 337.6,227.4 340.5,227.7 343.4,227.5 346.2,227.8 349.1,227.1 352.0,227.9 354.9,218.4 357.8,227.8 360.6,227.6 363.5,227.8 366.4,227.8 369.3,227.5 372.2,224.7 375.1,227.9 377.9,228.0 380.8,227.4 383.7,227.5 386.6,227.9 389.5,220.7 392.3,227.9 395.2,228.0 398.1,227.7 401.0,228.3 403.9,228.0 406.7,218.8 409.6,227.8 412.5,227.7 415.4,228.2 418.3,228.0 421.2,227.9 424.0,222.4 426.9,228.5 429.8,228.0 432.7,228.2 435.6,228.4 438.4,228.0 441.3,228.3 444.2,228.8 447.1,228.3 450.0,228.4 452.9,228.0 455.7,228.5 458.6,228.5 461.5,228.4 464.4,228.5 467.3,228.9 470.1,228.5 473.0,228.7 475.9,228.3 478.8,228.1 481.7,228.9 484.6,228.9 487.4,228.9 490.3,228.9 493.2,228.9 496.1,228.7 499.0,228.5 501.8,229.1 504.7,229.2 507.6,229.3 510.5,228.6 513.4,228.6 516.2,229.2 519.1,229.3 522.0,228.9 524.9,228.7 527.8,228.7 530.7,223.1 533.5,228.8 536.4,228.9 539.3,229.2"/>
<path d="M23.5,145.3H539.3V233.3H23.5Z" fill="none" stroke="#666" stroke-width="0.9"/>
<path d="M21.0,233.30H23.5" stroke="#666" stroke-width="0.8"/>
<text x="19.0" y="236.60" text-anchor="end" class="tk">0</text>
<path d="M21.0,204.04H23.5" stroke="#666" stroke-width="0.8"/>
<text x="19.0" y="207.34" text-anchor="end" class="tk">2</text>
<path d="M21.0,174.78H23.5" stroke="#666" stroke-width="0.8"/>
<text x="19.0" y="178.08" text-anchor="end" class="tk">4</text>
<path d="M21.0,145.52H23.5" stroke="#666" stroke-width="0.8"/>
<text x="19.0" y="148.82" text-anchor="end" class="tk">6</text>
<path d="M78.25,233.3V235.8" stroke="#666" stroke-width="0.8"/>
<text x="78.25" y="247.0" text-anchor="middle" class="tk">20</text>
<path d="M135.88,233.3V235.8" stroke="#666" stroke-width="0.8"/>
<text x="135.88" y="247.0" text-anchor="middle" class="tk">40</text>
<path d="M193.51,233.3V235.8" stroke="#666" stroke-width="0.8"/>
<text x="193.51" y="247.0" text-anchor="middle" class="tk">60</text>
<path d="M251.14,233.3V235.8" stroke="#666" stroke-width="0.8"/>
<text x="251.14" y="247.0" text-anchor="middle" class="tk">80</text>
<path d="M308.77,233.3V235.8" stroke="#666" stroke-width="0.8"/>
<text x="308.77" y="247.0" text-anchor="middle" class="tk">100</text>
<path d="M366.41,233.3V235.8" stroke="#666" stroke-width="0.8"/>
<text x="366.41" y="247.0" text-anchor="middle" class="tk">120</text>
<path d="M424.04,233.3V235.8" stroke="#666" stroke-width="0.8"/>
<text x="424.04" y="247.0" text-anchor="middle" class="tk">140</text>
<path d="M481.67,233.3V235.8" stroke="#666" stroke-width="0.8"/>
<text x="481.67" y="247.0" text-anchor="middle" class="tk">160</text>
<path d="M539.30,233.3V235.8" stroke="#666" stroke-width="0.8"/>
<text x="539.30" y="247.0" text-anchor="middle" class="tk">180</text>
<text x="284.5" y="256.8" text-anchor="middle" class="lb" style="font-size:9.35px">Validation Iteration</text>
<text transform="translate(10.2,186.8) rotate(-90)" text-anchor="middle" class="lb" style="font-size:9.4px">Total Loss</text>
<text x="273.5" y="275.8" text-anchor="middle" class="cap">(<tspan font-weight="bold">b</tspan>)</text>
<rect x="347.1" y="155.3" width="163.6" height="29.4" fill="#fff" stroke="#444" stroke-width="0.8"/>
<path d="M353.3,164.4H371.1" stroke="#e01414" stroke-width="2"/>
<text x="376.2" y="167.6" class="lg">ASOPCNN</text>
<path d="M353.3,177.1H371.1" stroke="#ee7a3c" stroke-width="2"/>
<text x="376.2" y="180.3" class="lg">MEACNN</text>
<path d="M434.7,164.4H452.5" stroke="#1414e0" stroke-width="2"/>
<text x="457.3" y="167.6" class="lg">MAXCNN</text>
<path d="M434.7,177.1H452.5" stroke="#22e022" stroke-width="2"/>
<text x="457.3" y="180.3" class="lg">STOCNN</text>
</svg>
</body></html>
